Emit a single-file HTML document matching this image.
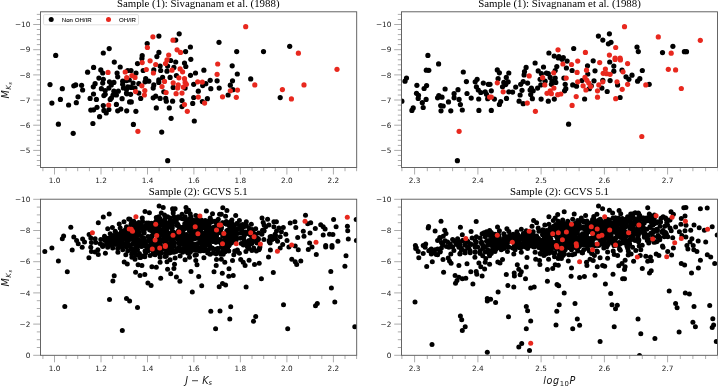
<!DOCTYPE html>
<html lang="en"><head><meta charset="utf-8"><title>Sample figure</title>
<style>html,body{margin:0;padding:0;background:#fff}body{width:718px;height:386px;overflow:hidden}svg{display:block}.t{font-family:"DejaVu Sans","Liberation Sans",sans-serif;font-size:7.3px;fill:#1a1a1a}.ti{font-family:"Liberation Serif","DejaVu Serif",serif;font-size:10.85px;fill:#000}.lb{font-family:"DejaVu Sans","Liberation Sans",sans-serif;font-style:italic;fill:#111}.lg{font-family:"Liberation Sans","DejaVu Sans",sans-serif;font-size:6.1px;fill:#111;stroke:#111;stroke-width:0.1px}</style></head><body>
<svg width="718" height="386" viewBox="0 0 718 386">
<rect width="718" height="386" fill="#fff"/>
<clipPath id="c40_11"><rect x="40.5" y="11.8" width="316.2" height="155.7"/></clipPath>
<g clip-path="url(#c40_11)">
<g fill="#000">
<circle cx="55.7" cy="55.4" r="2.6"/><circle cx="103.3" cy="53" r="2.6"/><circle cx="109.2" cy="48.6" r="2.6"/><circle cx="158.9" cy="36.1" r="2.6"/><circle cx="179.2" cy="33.8" r="2.6"/><circle cx="175.7" cy="40.1" r="2.6"/><circle cx="147.2" cy="43.6" r="2.6"/><circle cx="190.4" cy="47" r="2.6"/><circle cx="185.6" cy="51.6" r="2.6"/><circle cx="158.9" cy="52.4" r="2.6"/><circle cx="142.2" cy="55.7" r="2.6"/><circle cx="156.9" cy="56.6" r="2.6"/><circle cx="219" cy="42.3" r="2.6"/><circle cx="236.7" cy="51.6" r="2.6"/><circle cx="263.5" cy="51.6" r="2.6"/><circle cx="289.7" cy="46.3" r="2.6"/><circle cx="50" cy="84.6" r="2.6"/><circle cx="62.3" cy="88.7" r="2.6"/><circle cx="73.8" cy="85.8" r="2.6"/><circle cx="75.7" cy="84.9" r="2.6"/><circle cx="81.6" cy="85.3" r="2.6"/><circle cx="82.6" cy="90" r="2.6"/><circle cx="78" cy="96.8" r="2.6"/><circle cx="60.4" cy="99.4" r="2.6"/><circle cx="51.9" cy="103.1" r="2.6"/><circle cx="76.3" cy="102.7" r="2.6"/><circle cx="68.6" cy="105" r="2.6"/><circle cx="87.6" cy="72.2" r="2.6"/><circle cx="93.6" cy="67.4" r="2.6"/><circle cx="100.8" cy="69.9" r="2.6"/><circle cx="102.7" cy="73" r="2.6"/><circle cx="98.9" cy="78.1" r="2.6"/><circle cx="103.3" cy="79.3" r="2.6"/><circle cx="102.7" cy="83.1" r="2.6"/><circle cx="95.1" cy="83.7" r="2.6"/><circle cx="93.3" cy="86.8" r="2.6"/><circle cx="101.4" cy="88.7" r="2.6"/><circle cx="105.2" cy="90.6" r="2.6"/><circle cx="93.5" cy="94" r="2.6"/><circle cx="90.1" cy="98.4" r="2.6"/><circle cx="96.4" cy="99.4" r="2.6"/><circle cx="103.9" cy="95.6" r="2.6"/><circle cx="105.2" cy="94.3" r="2.6"/><circle cx="109.5" cy="81.8" r="2.6"/><circle cx="113.9" cy="82.4" r="2.6"/><circle cx="108.9" cy="88.1" r="2.6"/><circle cx="114.3" cy="62.1" r="2.6"/><circle cx="120.2" cy="67" r="2.6"/><circle cx="117.1" cy="73" r="2.6"/><circle cx="117.7" cy="76.8" r="2.6"/><circle cx="122.7" cy="81.2" r="2.6"/><circle cx="126.5" cy="80.6" r="2.6"/><circle cx="122.7" cy="84.3" r="2.6"/><circle cx="127.7" cy="86.8" r="2.6"/><circle cx="113.9" cy="91.2" r="2.6"/><circle cx="118.3" cy="91.2" r="2.6"/><circle cx="116.4" cy="95" r="2.6"/><circle cx="111.4" cy="98.1" r="2.6"/><circle cx="122.1" cy="98.7" r="2.6"/><circle cx="126.5" cy="93.1" r="2.6"/><circle cx="126.5" cy="89.3" r="2.6"/><circle cx="129.6" cy="101.9" r="2.6"/><circle cx="116.4" cy="104.4" r="2.6"/><circle cx="103.3" cy="105.6" r="2.6"/><circle cx="110.2" cy="99.4" r="2.6"/><circle cx="127.7" cy="70.5" r="2.6"/><circle cx="137.5" cy="63.6" r="2.6"/><circle cx="141.9" cy="58.6" r="2.6"/><circle cx="160.1" cy="66.1" r="2.6"/><circle cx="170.7" cy="60.5" r="2.6"/><circle cx="175.7" cy="62" r="2.6"/><circle cx="167.6" cy="66.1" r="2.6"/><circle cx="184.5" cy="63" r="2.6"/><circle cx="185.8" cy="66.5" r="2.6"/><circle cx="190.8" cy="59.3" r="2.6"/><circle cx="173.9" cy="67.4" r="2.6"/><circle cx="131" cy="70.5" r="2.6"/><circle cx="136" cy="73" r="2.6"/><circle cx="143.2" cy="70.5" r="2.6"/><circle cx="153.8" cy="69.9" r="2.6"/><circle cx="160.7" cy="70.5" r="2.6"/><circle cx="167" cy="71.2" r="2.6"/><circle cx="176.4" cy="75.5" r="2.6"/><circle cx="170.1" cy="77.4" r="2.6"/><circle cx="162.6" cy="77.4" r="2.6"/><circle cx="158.8" cy="79.9" r="2.6"/><circle cx="145.7" cy="78.7" r="2.6"/><circle cx="148.8" cy="81.2" r="2.6"/><circle cx="145" cy="81.8" r="2.6"/><circle cx="153.8" cy="84.9" r="2.6"/><circle cx="153.2" cy="88.1" r="2.6"/><circle cx="138.8" cy="83.7" r="2.6"/><circle cx="133.1" cy="83.1" r="2.6"/><circle cx="131.3" cy="87.4" r="2.6"/><circle cx="135" cy="88.1" r="2.6"/><circle cx="138.8" cy="93.1" r="2.6"/><circle cx="130.6" cy="94.3" r="2.6"/><circle cx="140.7" cy="98.4" r="2.6"/><circle cx="153.2" cy="97.8" r="2.6"/><circle cx="155.7" cy="96.2" r="2.6"/><circle cx="160.1" cy="98.4" r="2.6"/><circle cx="165.7" cy="98.4" r="2.6"/><circle cx="166.3" cy="101.2" r="2.6"/><circle cx="172.6" cy="101.2" r="2.6"/><circle cx="163.8" cy="91.8" r="2.6"/><circle cx="173.2" cy="87.4" r="2.6"/><circle cx="182" cy="100.6" r="2.6"/><circle cx="131.3" cy="101.9" r="2.6"/><circle cx="190.5" cy="75.3" r="2.6"/><circle cx="195.5" cy="73" r="2.6"/><circle cx="203.9" cy="70.2" r="2.6"/><circle cx="193.7" cy="84.3" r="2.6"/><circle cx="198.3" cy="91.2" r="2.6"/><circle cx="193.7" cy="97.5" r="2.6"/><circle cx="192.7" cy="103.4" r="2.6"/><circle cx="202.4" cy="101.6" r="2.6"/><circle cx="207.4" cy="98.7" r="2.6"/><circle cx="205.8" cy="83.7" r="2.6"/><circle cx="202.7" cy="85.6" r="2.6"/><circle cx="210.2" cy="80.3" r="2.6"/><circle cx="210.8" cy="88.7" r="2.6"/><circle cx="217.1" cy="80.8" r="2.6"/><circle cx="219.2" cy="88.1" r="2.6"/><circle cx="185.1" cy="88.1" r="2.6"/><circle cx="158.8" cy="82.4" r="2.6"/><circle cx="232.2" cy="65.8" r="2.6"/><circle cx="237.3" cy="74" r="2.6"/><circle cx="250.7" cy="78.9" r="2.6"/><circle cx="232.5" cy="80.8" r="2.6"/><circle cx="230.3" cy="85.2" r="2.6"/><circle cx="232.9" cy="89.7" r="2.6"/><circle cx="228.1" cy="95" r="2.6"/><circle cx="280.2" cy="97.6" r="2.6"/><circle cx="58.4" cy="124.2" r="2.6"/><circle cx="73.2" cy="133.3" r="2.6"/><circle cx="92.9" cy="123.5" r="2.6"/><circle cx="99.6" cy="116.7" r="2.6"/><circle cx="90.8" cy="110.1" r="2.6"/><circle cx="93.6" cy="109.8" r="2.6"/><circle cx="97" cy="107.3" r="2.6"/><circle cx="103.9" cy="110.4" r="2.6"/><circle cx="106.2" cy="112.9" r="2.6"/><circle cx="108.9" cy="109.5" r="2.6"/><circle cx="117.7" cy="110.8" r="2.6"/><circle cx="120.8" cy="109.1" r="2.6"/><circle cx="126.7" cy="110.8" r="2.6"/><circle cx="135.9" cy="111.3" r="2.6"/><circle cx="133.4" cy="124.4" r="2.6"/><circle cx="156.3" cy="107.9" r="2.6"/><circle cx="169.3" cy="107.9" r="2.6"/><circle cx="171.1" cy="118.3" r="2.6"/><circle cx="194.3" cy="121" r="2.6"/><circle cx="161.7" cy="132.1" r="2.6"/><circle cx="182" cy="106.6" r="2.6"/><circle cx="167.7" cy="160.7" r="2.6"/><circle cx="111.3" cy="85" r="2.6"/><circle cx="123.4" cy="88" r="2.6"/><circle cx="130.1" cy="87.1" r="2.6"/><circle cx="126.8" cy="93.8" r="2.6"/><circle cx="113" cy="95.1" r="2.6"/><circle cx="129.3" cy="80" r="2.6"/>
</g><g fill="#e8281e">
<circle cx="152.9" cy="36.8" r="2.6"/><circle cx="173" cy="40.2" r="2.6"/><circle cx="147.4" cy="47.5" r="2.6"/><circle cx="177.1" cy="49.8" r="2.6"/><circle cx="180.5" cy="52.4" r="2.6"/><circle cx="168.7" cy="55.1" r="2.6"/><circle cx="245.7" cy="26.7" r="2.6"/><circle cx="298.4" cy="53.2" r="2.6"/><circle cx="108" cy="72.4" r="2.6"/><circle cx="125.2" cy="72" r="2.6"/><circle cx="126.7" cy="77.7" r="2.6"/><circle cx="108.7" cy="105" r="2.6"/><circle cx="142.2" cy="62.6" r="2.6"/><circle cx="150.1" cy="60.8" r="2.6"/><circle cx="155.7" cy="64.5" r="2.6"/><circle cx="167" cy="59.9" r="2.6"/><circle cx="165.5" cy="63.6" r="2.6"/><circle cx="146.3" cy="69.5" r="2.6"/><circle cx="153.4" cy="73" r="2.6"/><circle cx="172" cy="70.2" r="2.6"/><circle cx="180.1" cy="68.9" r="2.6"/><circle cx="182.6" cy="71.8" r="2.6"/><circle cx="131.9" cy="75.5" r="2.6"/><circle cx="135" cy="77.4" r="2.6"/><circle cx="178.9" cy="77.8" r="2.6"/><circle cx="184.5" cy="78.7" r="2.6"/><circle cx="164.5" cy="81.4" r="2.6"/><circle cx="173.2" cy="82.8" r="2.6"/><circle cx="185.1" cy="82.4" r="2.6"/><circle cx="186.4" cy="84.3" r="2.6"/><circle cx="178.2" cy="84.9" r="2.6"/><circle cx="183.3" cy="87.1" r="2.6"/><circle cx="177.6" cy="88.1" r="2.6"/><circle cx="162" cy="86.6" r="2.6"/><circle cx="141.9" cy="85.8" r="2.6"/><circle cx="144.8" cy="90.6" r="2.6"/><circle cx="135.6" cy="91.6" r="2.6"/><circle cx="144.4" cy="95" r="2.6"/><circle cx="166.1" cy="92.5" r="2.6"/><circle cx="176.1" cy="93.7" r="2.6"/><circle cx="182" cy="93.1" r="2.6"/><circle cx="197.7" cy="81.8" r="2.6"/><circle cx="202.3" cy="82.1" r="2.6"/><circle cx="198.3" cy="97.1" r="2.6"/><circle cx="204.6" cy="103.1" r="2.6"/><circle cx="184.5" cy="104.6" r="2.6"/><circle cx="217.7" cy="64" r="2.6"/><circle cx="217.1" cy="74.3" r="2.6"/><circle cx="254.8" cy="84.9" r="2.6"/><circle cx="230.3" cy="90.8" r="2.6"/><circle cx="237.5" cy="90.1" r="2.6"/><circle cx="222.5" cy="96.8" r="2.6"/><circle cx="236.3" cy="97.3" r="2.6"/><circle cx="282.4" cy="89.6" r="2.6"/><circle cx="291.4" cy="98.9" r="2.6"/><circle cx="304" cy="84.9" r="2.6"/><circle cx="337" cy="69.3" r="2.6"/><circle cx="137.9" cy="131.3" r="2.6"/><circle cx="187.3" cy="111.3" r="2.6"/>
</g></g>
<rect x="40.5" y="11.8" width="316.2" height="155.7" fill="none" stroke="#555" stroke-width="0.9"/>
<path d="M54.5 167.5v7M101 167.5v7M147.5 167.5v7M193.9 167.5v7M240.4 167.5v7M286.9 167.5v7M333.4 167.5v7M42.9 167.5v3.7M66.1 167.5v3.7M77.7 167.5v3.7M89.4 167.5v3.7M112.6 167.5v3.7M124.2 167.5v3.7M135.8 167.5v3.7M159.1 167.5v3.7M170.7 167.5v3.7M182.3 167.5v3.7M205.6 167.5v3.7M217.2 167.5v3.7M228.8 167.5v3.7M252 167.5v3.7M263.7 167.5v3.7M275.3 167.5v3.7M298.5 167.5v3.7M310.1 167.5v3.7M321.8 167.5v3.7M345 167.5v3.7M356.6 167.5v3.7M40.5 24.5h-7.3M40.5 49.7h-7.3M40.5 74.9h-7.3M40.5 100h-7.3M40.5 125.2h-7.3M40.5 150.4h-7.3M40.5 14.4h-3.7M40.5 19.5h-3.7M40.5 29.5h-3.7M40.5 34.6h-3.7M40.5 39.6h-3.7M40.5 44.6h-3.7M40.5 54.7h-3.7M40.5 59.8h-3.7M40.5 64.8h-3.7M40.5 69.8h-3.7M40.5 79.9h-3.7M40.5 84.9h-3.7M40.5 90h-3.7M40.5 95h-3.7M40.5 105.1h-3.7M40.5 110.1h-3.7M40.5 115.1h-3.7M40.5 120.2h-3.7M40.5 130.3h-3.7M40.5 135.3h-3.7M40.5 140.3h-3.7M40.5 145.4h-3.7M40.5 155.4h-3.7M40.5 160.5h-3.7M40.5 165.5h-3.7" stroke="#666" stroke-width="0.55" fill="none"/>
<text class="t" x="54.5" y="182.8" text-anchor="middle">1.0</text>
<text class="t" x="101" y="182.8" text-anchor="middle">1.2</text>
<text class="t" x="147.5" y="182.8" text-anchor="middle">1.4</text>
<text class="t" x="193.9" y="182.8" text-anchor="middle">1.6</text>
<text class="t" x="240.4" y="182.8" text-anchor="middle">1.8</text>
<text class="t" x="286.9" y="182.8" text-anchor="middle">2.0</text>
<text class="t" x="333.4" y="182.8" text-anchor="middle">2.2</text>
<text class="t" x="30.3" y="27.2" text-anchor="end">−10</text>
<text class="t" x="30.3" y="52.4" text-anchor="end">−9</text>
<text class="t" x="30.3" y="77.6" text-anchor="end">−8</text>
<text class="t" x="30.3" y="102.7" text-anchor="end">−7</text>
<text class="t" x="30.3" y="127.9" text-anchor="end">−6</text>
<text class="t" x="30.3" y="153.1" text-anchor="end">−5</text>
<clipPath id="c401_11"><rect x="401.5" y="11.8" width="316" height="155.7"/></clipPath>
<g clip-path="url(#c401_11)">
<g fill="#000">
<circle cx="427.9" cy="55.4" r="2.6"/><circle cx="548.9" cy="53" r="2.6"/><circle cx="573.7" cy="48.5" r="2.6"/><circle cx="554.2" cy="56.1" r="2.6"/><circle cx="558.9" cy="56.6" r="2.6"/><circle cx="563.3" cy="57.6" r="2.6"/><circle cx="598.4" cy="36.1" r="2.6"/><circle cx="609.4" cy="33.8" r="2.6"/><circle cx="602.8" cy="40.1" r="2.6"/><circle cx="611" cy="42.3" r="2.6"/><circle cx="608.4" cy="43.8" r="2.6"/><circle cx="637" cy="47" r="2.6"/><circle cx="638.3" cy="51.6" r="2.6"/><circle cx="662.5" cy="52.6" r="2.6"/><circle cx="672.9" cy="46.3" r="2.6"/><circle cx="684.4" cy="51.7" r="2.6"/><circle cx="686.5" cy="51.7" r="2.6"/><circle cx="438.6" cy="63.9" r="2.6"/><circle cx="426.3" cy="70.2" r="2.6"/><circle cx="428.8" cy="70.3" r="2.6"/><circle cx="463.3" cy="72" r="2.6"/><circle cx="406.5" cy="78.1" r="2.6"/><circle cx="405" cy="81.2" r="2.6"/><circle cx="416.9" cy="85.3" r="2.6"/><circle cx="426.6" cy="85.6" r="2.6"/><circle cx="424.1" cy="88.5" r="2.6"/><circle cx="445.1" cy="89" r="2.6"/><circle cx="458" cy="89.7" r="2.6"/><circle cx="466.4" cy="81.6" r="2.6"/><circle cx="477.1" cy="79.3" r="2.6"/><circle cx="475.2" cy="81.8" r="2.6"/><circle cx="483.3" cy="83.1" r="2.6"/><circle cx="488.3" cy="84.3" r="2.6"/><circle cx="476.4" cy="86.8" r="2.6"/><circle cx="478.3" cy="90" r="2.6"/><circle cx="480.8" cy="92.5" r="2.6"/><circle cx="485.2" cy="91.8" r="2.6"/><circle cx="486.5" cy="94.3" r="2.6"/><circle cx="416.5" cy="93.3" r="2.6"/><circle cx="418.5" cy="95.3" r="2.6"/><circle cx="418.2" cy="98.4" r="2.6"/><circle cx="426.1" cy="99.4" r="2.6"/><circle cx="438.8" cy="95.6" r="2.6"/><circle cx="442" cy="97.2" r="2.6"/><circle cx="437.6" cy="97.8" r="2.6"/><circle cx="454.1" cy="93.7" r="2.6"/><circle cx="454.1" cy="97.8" r="2.6"/><circle cx="459.1" cy="99.4" r="2.6"/><circle cx="467" cy="93.5" r="2.6"/><circle cx="471.2" cy="98.1" r="2.6"/><circle cx="478.7" cy="99" r="2.6"/><circle cx="487.7" cy="98.7" r="2.6"/><circle cx="448.5" cy="101.9" r="2.6"/><circle cx="422.3" cy="102.7" r="2.6"/><circle cx="401.9" cy="101.2" r="2.6"/><circle cx="440.7" cy="105.6" r="2.6"/><circle cx="460.4" cy="104.6" r="2.6"/><circle cx="443.2" cy="106" r="2.6"/><circle cx="535.1" cy="63" r="2.6"/><circle cx="543.5" cy="67" r="2.6"/><circle cx="526.1" cy="67.4" r="2.6"/><circle cx="556.8" cy="66.5" r="2.6"/><circle cx="555.2" cy="70.5" r="2.6"/><circle cx="497.3" cy="69.9" r="2.6"/><circle cx="499.4" cy="72.8" r="2.6"/><circle cx="508.8" cy="73" r="2.6"/><circle cx="506.3" cy="77.4" r="2.6"/><circle cx="524.5" cy="71.5" r="2.6"/><circle cx="524.1" cy="74.9" r="2.6"/><circle cx="538.2" cy="70.9" r="2.6"/><circle cx="541.4" cy="73.7" r="2.6"/><circle cx="548.3" cy="73.7" r="2.6"/><circle cx="550.2" cy="77.4" r="2.6"/><circle cx="555.2" cy="78.1" r="2.6"/><circle cx="552" cy="81.2" r="2.6"/><circle cx="555.8" cy="82.4" r="2.6"/><circle cx="551.4" cy="84.3" r="2.6"/><circle cx="540.1" cy="79.3" r="2.6"/><circle cx="545.1" cy="81.2" r="2.6"/><circle cx="498.1" cy="78.7" r="2.6"/><circle cx="503.8" cy="82.4" r="2.6"/><circle cx="508.2" cy="81.8" r="2.6"/><circle cx="505.7" cy="84.6" r="2.6"/><circle cx="502.5" cy="86.8" r="2.6"/><circle cx="515.7" cy="87.1" r="2.6"/><circle cx="523.2" cy="81.6" r="2.6"/><circle cx="527.6" cy="83.1" r="2.6"/><circle cx="520.7" cy="84.3" r="2.6"/><circle cx="491.3" cy="90.8" r="2.6"/><circle cx="490" cy="84.3" r="2.6"/><circle cx="508.8" cy="91.8" r="2.6"/><circle cx="512.6" cy="92.1" r="2.6"/><circle cx="522" cy="90.3" r="2.6"/><circle cx="520.1" cy="95" r="2.6"/><circle cx="531.4" cy="88.1" r="2.6"/><circle cx="533.2" cy="90.8" r="2.6"/><circle cx="530.1" cy="90" r="2.6"/><circle cx="537.6" cy="88.1" r="2.6"/><circle cx="530.7" cy="94.6" r="2.6"/><circle cx="532.4" cy="98.7" r="2.6"/><circle cx="541.1" cy="99.1" r="2.6"/><circle cx="548.3" cy="101.2" r="2.6"/><circle cx="554.3" cy="99.1" r="2.6"/><circle cx="506.5" cy="98.4" r="2.6"/><circle cx="494.4" cy="99.1" r="2.6"/><circle cx="500.7" cy="101.6" r="2.6"/><circle cx="499.4" cy="104.4" r="2.6"/><circle cx="519.1" cy="101.2" r="2.6"/><circle cx="523.2" cy="103.7" r="2.6"/><circle cx="563.9" cy="78.1" r="2.6"/><circle cx="565.2" cy="84.3" r="2.6"/><circle cx="565.8" cy="88.7" r="2.6"/><circle cx="564.6" cy="90.8" r="2.6"/><circle cx="572.7" cy="84.9" r="2.6"/><circle cx="576.5" cy="86.2" r="2.6"/><circle cx="572.1" cy="70.5" r="2.6"/><circle cx="566.4" cy="68" r="2.6"/><circle cx="562.1" cy="59.3" r="2.6"/><circle cx="567.1" cy="61.1" r="2.6"/><circle cx="558.3" cy="58" r="2.6"/><circle cx="540.8" cy="84.9" r="2.6"/><circle cx="546.4" cy="73" r="2.6"/><circle cx="593.2" cy="60.8" r="2.6"/><circle cx="609.7" cy="62" r="2.6"/><circle cx="587.5" cy="65.8" r="2.6"/><circle cx="613.8" cy="66.1" r="2.6"/><circle cx="595" cy="70.8" r="2.6"/><circle cx="613.8" cy="71.2" r="2.6"/><circle cx="622" cy="70.2" r="2.6"/><circle cx="587.8" cy="74" r="2.6"/><circle cx="642.3" cy="70.5" r="2.6"/><circle cx="632" cy="75.2" r="2.6"/><circle cx="626" cy="76.8" r="2.6"/><circle cx="628.9" cy="79.3" r="2.6"/><circle cx="639.8" cy="78.7" r="2.6"/><circle cx="637.6" cy="81.2" r="2.6"/><circle cx="594" cy="80.8" r="2.6"/><circle cx="602.8" cy="80.3" r="2.6"/><circle cx="610.1" cy="80.6" r="2.6"/><circle cx="581.9" cy="80.6" r="2.6"/><circle cx="617.6" cy="84.9" r="2.6"/><circle cx="649.2" cy="84.3" r="2.6"/><circle cx="601.9" cy="88.1" r="2.6"/><circle cx="607.2" cy="91.5" r="2.6"/><circle cx="620.1" cy="97.5" r="2.6"/><circle cx="584.6" cy="99" r="2.6"/><circle cx="589.4" cy="88.7" r="2.6"/><circle cx="591.3" cy="85.8" r="2.6"/><circle cx="411.9" cy="110.4" r="2.6"/><circle cx="413.2" cy="107.9" r="2.6"/><circle cx="423.2" cy="107.5" r="2.6"/><circle cx="441" cy="110.8" r="2.6"/><circle cx="450.8" cy="110.8" r="2.6"/><circle cx="462.3" cy="110" r="2.6"/><circle cx="478.9" cy="110.4" r="2.6"/><circle cx="568.6" cy="124.2" r="2.6"/><circle cx="491.3" cy="110.4" r="2.6"/><circle cx="457.4" cy="160.7" r="2.6"/>
</g><g fill="#e8281e">
<circle cx="558" cy="49.8" r="2.6"/><circle cx="624.5" cy="26.7" r="2.6"/><circle cx="658.3" cy="36.9" r="2.6"/><circle cx="615.7" cy="47.5" r="2.6"/><circle cx="585.4" cy="52.4" r="2.6"/><circle cx="609.4" cy="55.1" r="2.6"/><circle cx="615.1" cy="58" r="2.6"/><circle cx="620.1" cy="58.2" r="2.6"/><circle cx="671.2" cy="53.2" r="2.6"/><circle cx="700.3" cy="40.3" r="2.6"/><circle cx="489.6" cy="97.1" r="2.6"/><circle cx="562.9" cy="64" r="2.6"/><circle cx="571.5" cy="64.5" r="2.6"/><circle cx="577.7" cy="61.1" r="2.6"/><circle cx="577.1" cy="72.4" r="2.6"/><circle cx="553.7" cy="72.8" r="2.6"/><circle cx="529.2" cy="75.9" r="2.6"/><circle cx="542.6" cy="77.7" r="2.6"/><circle cx="566.2" cy="78.1" r="2.6"/><circle cx="577.7" cy="81.8" r="2.6"/><circle cx="497.3" cy="82.8" r="2.6"/><circle cx="544.8" cy="84.9" r="2.6"/><circle cx="553.9" cy="88.1" r="2.6"/><circle cx="550.2" cy="90.8" r="2.6"/><circle cx="547" cy="93.3" r="2.6"/><circle cx="551.4" cy="93.7" r="2.6"/><circle cx="557.7" cy="94.7" r="2.6"/><circle cx="560.8" cy="94" r="2.6"/><circle cx="503.2" cy="91.8" r="2.6"/><circle cx="491.3" cy="97.1" r="2.6"/><circle cx="576.2" cy="96.6" r="2.6"/><circle cx="527.3" cy="103.1" r="2.6"/><circle cx="572.1" cy="105.4" r="2.6"/><circle cx="599.7" cy="62.6" r="2.6"/><circle cx="615.1" cy="59.5" r="2.6"/><circle cx="620.4" cy="59.9" r="2.6"/><circle cx="627.6" cy="63.6" r="2.6"/><circle cx="586.5" cy="70.2" r="2.6"/><circle cx="605.4" cy="69" r="2.6"/><circle cx="603.2" cy="73.3" r="2.6"/><circle cx="606.6" cy="73.7" r="2.6"/><circle cx="610.1" cy="74.3" r="2.6"/><circle cx="623" cy="71.8" r="2.6"/><circle cx="585" cy="77.4" r="2.6"/><circle cx="586.9" cy="80.3" r="2.6"/><circle cx="588.8" cy="83.1" r="2.6"/><circle cx="590.7" cy="86.6" r="2.6"/><circle cx="583.1" cy="85.8" r="2.6"/><circle cx="585.9" cy="90" r="2.6"/><circle cx="602.8" cy="81.8" r="2.6"/><circle cx="598.8" cy="84.9" r="2.6"/><circle cx="597.5" cy="90.8" r="2.6"/><circle cx="597.5" cy="97.2" r="2.6"/><circle cx="617" cy="81.8" r="2.6"/><circle cx="627.6" cy="84.3" r="2.6"/><circle cx="622.2" cy="89.3" r="2.6"/><circle cx="615.7" cy="98.7" r="2.6"/><circle cx="645.8" cy="84.9" r="2.6"/><circle cx="668.3" cy="69.3" r="2.6"/><circle cx="675.6" cy="69.9" r="2.6"/><circle cx="681.3" cy="88.5" r="2.6"/><circle cx="459.1" cy="131.3" r="2.6"/><circle cx="535.4" cy="111.3" r="2.6"/><circle cx="641.8" cy="136.5" r="2.6"/>
</g></g>
<rect x="401.5" y="11.8" width="316" height="155.7" fill="none" stroke="#555" stroke-width="0.9"/>
<path d="M414.6 167.5v7M477.9 167.5v7M541.1 167.5v7M604.4 167.5v7M667.6 167.5v7M401.9 167.5v3.7M427.3 167.5v3.7M439.9 167.5v3.7M452.6 167.5v3.7M465.2 167.5v3.7M490.5 167.5v3.7M503.2 167.5v3.7M515.8 167.5v3.7M528.5 167.5v3.7M553.8 167.5v3.7M566.4 167.5v3.7M579.1 167.5v3.7M591.7 167.5v3.7M617 167.5v3.7M629.7 167.5v3.7M642.3 167.5v3.7M655 167.5v3.7M680.3 167.5v3.7M692.9 167.5v3.7M705.6 167.5v3.7M718.2 167.5v3.7M401.5 24.5h-7.3M401.5 49.7h-7.3M401.5 74.9h-7.3M401.5 100h-7.3M401.5 125.2h-7.3M401.5 150.4h-7.3M401.5 14.4h-3.7M401.5 19.5h-3.7M401.5 29.5h-3.7M401.5 34.6h-3.7M401.5 39.6h-3.7M401.5 44.6h-3.7M401.5 54.7h-3.7M401.5 59.8h-3.7M401.5 64.8h-3.7M401.5 69.8h-3.7M401.5 79.9h-3.7M401.5 84.9h-3.7M401.5 90h-3.7M401.5 95h-3.7M401.5 105.1h-3.7M401.5 110.1h-3.7M401.5 115.1h-3.7M401.5 120.2h-3.7M401.5 130.3h-3.7M401.5 135.3h-3.7M401.5 140.3h-3.7M401.5 145.4h-3.7M401.5 155.4h-3.7M401.5 160.5h-3.7M401.5 165.5h-3.7" stroke="#666" stroke-width="0.55" fill="none"/>
<text class="t" x="414.6" y="182.8" text-anchor="middle">2.3</text>
<text class="t" x="477.9" y="182.8" text-anchor="middle">2.4</text>
<text class="t" x="541.1" y="182.8" text-anchor="middle">2.5</text>
<text class="t" x="604.4" y="182.8" text-anchor="middle">2.6</text>
<text class="t" x="667.6" y="182.8" text-anchor="middle">2.7</text>
<text class="t" x="391.3" y="27.2" text-anchor="end">−10</text>
<text class="t" x="391.3" y="52.4" text-anchor="end">−9</text>
<text class="t" x="391.3" y="77.6" text-anchor="end">−8</text>
<text class="t" x="391.3" y="102.7" text-anchor="end">−7</text>
<text class="t" x="391.3" y="127.9" text-anchor="end">−6</text>
<text class="t" x="391.3" y="153.1" text-anchor="end">−5</text>
<clipPath id="c40_199"><rect x="40.5" y="199.2" width="316.2" height="156.1"/></clipPath>
<g clip-path="url(#c40_199)">
<g fill="#000">
<circle cx="128.4" cy="236" r="2.5"/><circle cx="126.1" cy="231" r="2.5"/><circle cx="125.6" cy="233.3" r="2.5"/><circle cx="128.4" cy="240.6" r="2.5"/><circle cx="125.5" cy="229.6" r="2.5"/><circle cx="123.5" cy="232.7" r="2.5"/><circle cx="126.9" cy="237.6" r="2.5"/><circle cx="123" cy="246" r="2.5"/><circle cx="127.2" cy="232.6" r="2.5"/><circle cx="107.1" cy="244.3" r="2.5"/><circle cx="125.8" cy="230.1" r="2.5"/><circle cx="105.3" cy="240.3" r="2.5"/><circle cx="121.9" cy="233.8" r="2.5"/><circle cx="124.4" cy="238.8" r="2.5"/><circle cx="125.4" cy="237.8" r="2.5"/><circle cx="123.8" cy="237.2" r="2.5"/><circle cx="121.7" cy="239.3" r="2.5"/><circle cx="127.7" cy="233.7" r="2.5"/><circle cx="128.1" cy="239.8" r="2.5"/><circle cx="104.9" cy="239.1" r="2.5"/><circle cx="121.1" cy="245.4" r="2.5"/><circle cx="104.5" cy="239.3" r="2.5"/><circle cx="127.4" cy="235.4" r="2.5"/><circle cx="124.9" cy="237.2" r="2.5"/><circle cx="122.9" cy="234.9" r="2.5"/><circle cx="115.4" cy="238.8" r="2.5"/><circle cx="120.1" cy="244" r="2.5"/><circle cx="112.3" cy="236.5" r="2.5"/><circle cx="108" cy="238.3" r="2.5"/><circle cx="112.5" cy="236.3" r="2.5"/><circle cx="127.3" cy="230.2" r="2.5"/><circle cx="115" cy="239.3" r="2.5"/><circle cx="118.6" cy="235.2" r="2.5"/><circle cx="115.5" cy="244.3" r="2.5"/><circle cx="116.3" cy="243.3" r="2.5"/><circle cx="119.3" cy="246" r="2.5"/><circle cx="114" cy="244.1" r="2.5"/><circle cx="108.7" cy="239.8" r="2.5"/><circle cx="110.7" cy="238.8" r="2.5"/><circle cx="109.8" cy="243.9" r="2.5"/><circle cx="122.5" cy="231.6" r="2.5"/><circle cx="119.1" cy="242.9" r="2.5"/><circle cx="123.6" cy="244.9" r="2.5"/><circle cx="109.5" cy="241.9" r="2.5"/><circle cx="119.7" cy="238.7" r="2.5"/><circle cx="122.4" cy="231.9" r="2.5"/><circle cx="125.9" cy="236.1" r="2.5"/><circle cx="113.3" cy="238.1" r="2.5"/><circle cx="121.6" cy="237.2" r="2.5"/><circle cx="125.8" cy="231.5" r="2.5"/><circle cx="121.9" cy="240.6" r="2.5"/><circle cx="113.8" cy="238.8" r="2.5"/><circle cx="119.8" cy="244.7" r="2.5"/><circle cx="109.6" cy="241.4" r="2.5"/><circle cx="121.4" cy="231.4" r="2.5"/><circle cx="126.8" cy="242.6" r="2.5"/><circle cx="121.3" cy="241.5" r="2.5"/><circle cx="119.9" cy="241.2" r="2.5"/><circle cx="116.6" cy="233.4" r="2.5"/><circle cx="102.2" cy="245.3" r="2.5"/><circle cx="119.7" cy="236.8" r="2.5"/><circle cx="102" cy="244.7" r="2.5"/><circle cx="109.3" cy="242.2" r="2.5"/><circle cx="117.9" cy="242.7" r="2.5"/><circle cx="113.3" cy="235.5" r="2.5"/><circle cx="129.4" cy="227.8" r="2.5"/><circle cx="120.4" cy="240.4" r="2.5"/><circle cx="104.6" cy="239.3" r="2.5"/><circle cx="127.1" cy="236.8" r="2.5"/><circle cx="122.5" cy="242.3" r="2.5"/><circle cx="113.1" cy="237.5" r="2.5"/><circle cx="114.5" cy="240.9" r="2.5"/><circle cx="116.2" cy="241.2" r="2.5"/><circle cx="128.2" cy="234.8" r="2.5"/><circle cx="106.1" cy="239" r="2.5"/><circle cx="118.5" cy="237.5" r="2.5"/><circle cx="109.1" cy="245.2" r="2.5"/><circle cx="112.3" cy="239.9" r="2.5"/><circle cx="108.9" cy="242.7" r="2.5"/><circle cx="129.9" cy="229.9" r="2.5"/><circle cx="114.7" cy="244" r="2.5"/><circle cx="114" cy="242.6" r="2.5"/><circle cx="117.4" cy="237.6" r="2.5"/><circle cx="107.9" cy="241.1" r="2.5"/><circle cx="109.6" cy="241.5" r="2.5"/><circle cx="109.2" cy="213.9" r="2.5"/><circle cx="103.3" cy="217" r="2.5"/><circle cx="98.3" cy="222.8" r="2.5"/><circle cx="70.8" cy="227.2" r="2.5"/><circle cx="63.6" cy="236" r="2.5"/><circle cx="62.3" cy="238.7" r="2.5"/><circle cx="73.8" cy="237.1" r="2.5"/><circle cx="76.6" cy="240.4" r="2.5"/><circle cx="78.2" cy="243.7" r="2.5"/><circle cx="82.6" cy="239.1" r="2.5"/><circle cx="84.5" cy="241.9" r="2.5"/><circle cx="89.1" cy="234.6" r="2.5"/><circle cx="90.8" cy="238.1" r="2.5"/><circle cx="95.1" cy="238.7" r="2.5"/><circle cx="91.4" cy="242.5" r="2.5"/><circle cx="95.8" cy="242.5" r="2.5"/><circle cx="107.7" cy="228.7" r="2.5"/><circle cx="112.4" cy="227.4" r="2.5"/><circle cx="119.2" cy="224.1" r="2.5"/><circle cx="124" cy="221.8" r="2.5"/><circle cx="128.7" cy="219.1" r="2.5"/><circle cx="126.5" cy="226.8" r="2.5"/><circle cx="120.2" cy="228.1" r="2.5"/><circle cx="115.2" cy="231.2" r="2.5"/><circle cx="110.2" cy="233.7" r="2.5"/><circle cx="104.5" cy="236.2" r="2.5"/><circle cx="100.8" cy="239.4" r="2.5"/><circle cx="105.2" cy="240.6" r="2.5"/><circle cx="110.2" cy="238.1" r="2.5"/><circle cx="115.2" cy="236.8" r="2.5"/><circle cx="120.2" cy="234.3" r="2.5"/><circle cx="125.2" cy="233.1" r="2.5"/><circle cx="129" cy="234.3" r="2.5"/><circle cx="100.2" cy="243.7" r="2.5"/><circle cx="106.4" cy="244.4" r="2.5"/><circle cx="112.7" cy="241.9" r="2.5"/><circle cx="117.7" cy="240.6" r="2.5"/><circle cx="122.7" cy="239.4" r="2.5"/><circle cx="127.7" cy="239.4" r="2.5"/><circle cx="117.7" cy="244.4" r="2.5"/><circle cx="122.7" cy="244.4" r="2.5"/><circle cx="127.7" cy="243.7" r="2.5"/><circle cx="111.4" cy="245" r="2.5"/><circle cx="145.9" cy="245.8" r="2.5"/><circle cx="164.5" cy="228.8" r="2.5"/><circle cx="205.1" cy="227.9" r="2.5"/><circle cx="163.7" cy="228.8" r="2.5"/><circle cx="156.2" cy="221.6" r="2.5"/><circle cx="212.6" cy="228.5" r="2.5"/><circle cx="159.6" cy="222.5" r="2.5"/><circle cx="181.1" cy="240.8" r="2.5"/><circle cx="198.8" cy="232.5" r="2.5"/><circle cx="163" cy="235.2" r="2.5"/><circle cx="190.6" cy="242.9" r="2.5"/><circle cx="166.7" cy="230.9" r="2.5"/><circle cx="209.1" cy="240.1" r="2.5"/><circle cx="173.4" cy="221.2" r="2.5"/><circle cx="180" cy="234.1" r="2.5"/><circle cx="139.9" cy="226.6" r="2.5"/><circle cx="147.3" cy="225.5" r="2.5"/><circle cx="132.4" cy="244" r="2.5"/><circle cx="152.7" cy="239.7" r="2.5"/><circle cx="187.6" cy="225.9" r="2.5"/><circle cx="209.6" cy="235" r="2.5"/><circle cx="209.1" cy="239.9" r="2.5"/><circle cx="169.7" cy="243.3" r="2.5"/><circle cx="175" cy="235.6" r="2.5"/><circle cx="166.2" cy="223.8" r="2.5"/><circle cx="189" cy="238.7" r="2.5"/><circle cx="162.4" cy="240.3" r="2.5"/><circle cx="210.1" cy="237.7" r="2.5"/><circle cx="162.2" cy="230.5" r="2.5"/><circle cx="153.9" cy="223.7" r="2.5"/><circle cx="209.4" cy="241.6" r="2.5"/><circle cx="143.8" cy="231.6" r="2.5"/><circle cx="206.3" cy="228" r="2.5"/><circle cx="185.9" cy="222.2" r="2.5"/><circle cx="158.9" cy="238.4" r="2.5"/><circle cx="133.6" cy="240" r="2.5"/><circle cx="152.4" cy="231" r="2.5"/><circle cx="170.3" cy="234.6" r="2.5"/><circle cx="206.7" cy="238.3" r="2.5"/><circle cx="215.8" cy="221.7" r="2.5"/><circle cx="202.3" cy="223.3" r="2.5"/><circle cx="159.4" cy="224.7" r="2.5"/><circle cx="198.2" cy="236.7" r="2.5"/><circle cx="165.7" cy="245" r="2.5"/><circle cx="154.7" cy="230.9" r="2.5"/><circle cx="211.4" cy="235.2" r="2.5"/><circle cx="179.4" cy="226.7" r="2.5"/><circle cx="185.6" cy="236.7" r="2.5"/><circle cx="216.4" cy="240.4" r="2.5"/><circle cx="212.7" cy="241.5" r="2.5"/><circle cx="154.9" cy="224.4" r="2.5"/><circle cx="217" cy="229.9" r="2.5"/><circle cx="172.5" cy="225.2" r="2.5"/><circle cx="131.5" cy="238" r="2.5"/><circle cx="200.4" cy="226.7" r="2.5"/><circle cx="157.8" cy="229.2" r="2.5"/><circle cx="196.2" cy="230.3" r="2.5"/><circle cx="163.7" cy="224.1" r="2.5"/><circle cx="187.3" cy="245.2" r="2.5"/><circle cx="165" cy="234.7" r="2.5"/><circle cx="158.9" cy="223.2" r="2.5"/><circle cx="178.4" cy="242.7" r="2.5"/><circle cx="173" cy="234.7" r="2.5"/><circle cx="194.4" cy="244.5" r="2.5"/><circle cx="149.7" cy="230.1" r="2.5"/><circle cx="215.1" cy="221.6" r="2.5"/><circle cx="138.3" cy="234.9" r="2.5"/><circle cx="185.2" cy="228.5" r="2.5"/><circle cx="210.8" cy="240.8" r="2.5"/><circle cx="172" cy="228.2" r="2.5"/><circle cx="134.1" cy="236.5" r="2.5"/><circle cx="143" cy="240.3" r="2.5"/><circle cx="195.1" cy="220.6" r="2.5"/><circle cx="187" cy="222.4" r="2.5"/><circle cx="206.9" cy="241.6" r="2.5"/><circle cx="174.4" cy="238.6" r="2.5"/><circle cx="136.7" cy="244.9" r="2.5"/><circle cx="203.2" cy="225.7" r="2.5"/><circle cx="203" cy="225.5" r="2.5"/><circle cx="184.6" cy="242.4" r="2.5"/><circle cx="173" cy="231.7" r="2.5"/><circle cx="174.2" cy="242.9" r="2.5"/><circle cx="164.5" cy="225.2" r="2.5"/><circle cx="186.3" cy="234.5" r="2.5"/><circle cx="199" cy="237.5" r="2.5"/><circle cx="156.2" cy="230.2" r="2.5"/><circle cx="178.5" cy="230.6" r="2.5"/><circle cx="204.9" cy="239.9" r="2.5"/><circle cx="202.4" cy="245.6" r="2.5"/><circle cx="180.9" cy="230.9" r="2.5"/><circle cx="145.3" cy="243.3" r="2.5"/><circle cx="159.1" cy="227" r="2.5"/><circle cx="131.4" cy="223.1" r="2.5"/><circle cx="196.5" cy="238.2" r="2.5"/><circle cx="154.1" cy="240.7" r="2.5"/><circle cx="206.5" cy="222.3" r="2.5"/><circle cx="196.4" cy="228.1" r="2.5"/><circle cx="136.4" cy="242.5" r="2.5"/><circle cx="169.1" cy="224.9" r="2.5"/><circle cx="201.7" cy="237.4" r="2.5"/><circle cx="157.4" cy="221.9" r="2.5"/><circle cx="195.6" cy="234.7" r="2.5"/><circle cx="141.6" cy="244.8" r="2.5"/><circle cx="150.8" cy="243.7" r="2.5"/><circle cx="206.3" cy="236.1" r="2.5"/><circle cx="168.6" cy="235.1" r="2.5"/><circle cx="213.3" cy="230.4" r="2.5"/><circle cx="176.6" cy="238.1" r="2.5"/><circle cx="169.5" cy="245.2" r="2.5"/><circle cx="189.5" cy="231.5" r="2.5"/><circle cx="159.5" cy="238.2" r="2.5"/><circle cx="185" cy="240.2" r="2.5"/><circle cx="204.1" cy="239.8" r="2.5"/><circle cx="160.5" cy="241.1" r="2.5"/><circle cx="162.9" cy="222.4" r="2.5"/><circle cx="195.2" cy="227.2" r="2.5"/><circle cx="208.7" cy="223" r="2.5"/><circle cx="155.8" cy="227.1" r="2.5"/><circle cx="151" cy="242.5" r="2.5"/><circle cx="198.1" cy="234.8" r="2.5"/><circle cx="208.8" cy="234.6" r="2.5"/><circle cx="170.2" cy="233.4" r="2.5"/><circle cx="164.8" cy="242.2" r="2.5"/><circle cx="160" cy="246" r="2.5"/><circle cx="199.7" cy="235.1" r="2.5"/><circle cx="194" cy="232.1" r="2.5"/><circle cx="209.7" cy="245.9" r="2.5"/><circle cx="152.1" cy="236" r="2.5"/><circle cx="136.1" cy="224.6" r="2.5"/><circle cx="159.7" cy="225" r="2.5"/><circle cx="162.2" cy="232.2" r="2.5"/><circle cx="141.3" cy="236.1" r="2.5"/><circle cx="188.8" cy="236.3" r="2.5"/><circle cx="212.1" cy="236.9" r="2.5"/><circle cx="164.8" cy="245.3" r="2.5"/><circle cx="207.3" cy="231.7" r="2.5"/><circle cx="157.4" cy="244.2" r="2.5"/><circle cx="191" cy="229.6" r="2.5"/><circle cx="136.5" cy="235.9" r="2.5"/><circle cx="189.3" cy="239" r="2.5"/><circle cx="169.1" cy="238.5" r="2.5"/><circle cx="169.1" cy="245.4" r="2.5"/><circle cx="151.4" cy="230.6" r="2.5"/><circle cx="218.1" cy="226.4" r="2.5"/><circle cx="189.8" cy="224" r="2.5"/><circle cx="196.6" cy="226.1" r="2.5"/><circle cx="217.1" cy="228.8" r="2.5"/><circle cx="198.3" cy="228.8" r="2.5"/><circle cx="187.9" cy="222.7" r="2.5"/><circle cx="172.1" cy="227.5" r="2.5"/><circle cx="215.8" cy="242.2" r="2.5"/><circle cx="191.9" cy="226.3" r="2.5"/><circle cx="194" cy="238.9" r="2.5"/><circle cx="173.1" cy="241.8" r="2.5"/><circle cx="148.6" cy="222.9" r="2.5"/><circle cx="146.5" cy="223.1" r="2.5"/><circle cx="191.3" cy="244.6" r="2.5"/><circle cx="143.4" cy="227.6" r="2.5"/><circle cx="181.3" cy="244.2" r="2.5"/><circle cx="192.4" cy="237.1" r="2.5"/><circle cx="202.9" cy="222.8" r="2.5"/><circle cx="200.1" cy="232.4" r="2.5"/><circle cx="140.8" cy="245.4" r="2.5"/><circle cx="135.4" cy="223.4" r="2.5"/><circle cx="190.8" cy="244.8" r="2.5"/><circle cx="171.3" cy="235.5" r="2.5"/><circle cx="183.2" cy="229.3" r="2.5"/><circle cx="187.2" cy="239.5" r="2.5"/><circle cx="131.6" cy="229.6" r="2.5"/><circle cx="219.6" cy="239.5" r="2.5"/><circle cx="192.7" cy="231.9" r="2.5"/><circle cx="189.7" cy="230.3" r="2.5"/><circle cx="151" cy="236.5" r="2.5"/><circle cx="164" cy="227.8" r="2.5"/><circle cx="184.4" cy="244.6" r="2.5"/><circle cx="139.3" cy="232.4" r="2.5"/><circle cx="154.3" cy="233" r="2.5"/><circle cx="199.7" cy="229.2" r="2.5"/><circle cx="175.6" cy="237.8" r="2.5"/><circle cx="213.1" cy="227.6" r="2.5"/><circle cx="181.2" cy="236.5" r="2.5"/><circle cx="172.8" cy="233.5" r="2.5"/><circle cx="208.1" cy="239.8" r="2.5"/><circle cx="148.4" cy="240.4" r="2.5"/><circle cx="162.5" cy="233" r="2.5"/><circle cx="159.1" cy="245" r="2.5"/><circle cx="162.5" cy="231.1" r="2.5"/><circle cx="187.8" cy="227.2" r="2.5"/><circle cx="205.4" cy="227.7" r="2.5"/><circle cx="191" cy="241.2" r="2.5"/><circle cx="212.9" cy="231.2" r="2.5"/><circle cx="205.8" cy="245.2" r="2.5"/><circle cx="186" cy="236.3" r="2.5"/><circle cx="172.2" cy="242.9" r="2.5"/><circle cx="159.5" cy="220.7" r="2.5"/><circle cx="165.6" cy="223.2" r="2.5"/><circle cx="215.6" cy="241.7" r="2.5"/><circle cx="174" cy="237.3" r="2.5"/><circle cx="208" cy="232.7" r="2.5"/><circle cx="177.9" cy="239" r="2.5"/><circle cx="167.7" cy="227.7" r="2.5"/><circle cx="198.1" cy="224.4" r="2.5"/><circle cx="158.5" cy="236.8" r="2.5"/><circle cx="205.8" cy="221.8" r="2.5"/><circle cx="193.8" cy="233" r="2.5"/><circle cx="154.4" cy="225.7" r="2.5"/><circle cx="138.1" cy="239.4" r="2.5"/><circle cx="135.5" cy="228.5" r="2.5"/><circle cx="146.7" cy="227" r="2.5"/><circle cx="158.4" cy="239.2" r="2.5"/><circle cx="202.8" cy="234.2" r="2.5"/><circle cx="158.9" cy="245.2" r="2.5"/><circle cx="199.8" cy="240" r="2.5"/><circle cx="183.6" cy="229.3" r="2.5"/><circle cx="204.6" cy="241.5" r="2.5"/><circle cx="206.5" cy="231.4" r="2.5"/><circle cx="207" cy="234.6" r="2.5"/><circle cx="212.8" cy="241.1" r="2.5"/><circle cx="159.9" cy="232.7" r="2.5"/><circle cx="203" cy="243.9" r="2.5"/><circle cx="214.7" cy="237.2" r="2.5"/><circle cx="191.1" cy="234" r="2.5"/><circle cx="177.3" cy="235.4" r="2.5"/><circle cx="209.5" cy="245.2" r="2.5"/><circle cx="208" cy="224.3" r="2.5"/><circle cx="147.2" cy="228.1" r="2.5"/><circle cx="218.3" cy="225.6" r="2.5"/><circle cx="208.4" cy="229.1" r="2.5"/><circle cx="135.6" cy="235.5" r="2.5"/><circle cx="205.7" cy="225.1" r="2.5"/><circle cx="182.8" cy="232.9" r="2.5"/><circle cx="143" cy="239.1" r="2.5"/><circle cx="157.4" cy="239.4" r="2.5"/><circle cx="148.2" cy="225.6" r="2.5"/><circle cx="215.1" cy="236.3" r="2.5"/><circle cx="159.8" cy="224.4" r="2.5"/><circle cx="176.1" cy="222.5" r="2.5"/><circle cx="214.9" cy="239.4" r="2.5"/><circle cx="155.9" cy="225" r="2.5"/><circle cx="135.7" cy="225.3" r="2.5"/><circle cx="162.2" cy="221.9" r="2.5"/><circle cx="163.8" cy="229.4" r="2.5"/><circle cx="194" cy="233.6" r="2.5"/><circle cx="140.4" cy="240.8" r="2.5"/><circle cx="140.5" cy="243.7" r="2.5"/><circle cx="173.6" cy="238.3" r="2.5"/><circle cx="175.2" cy="237.4" r="2.5"/><circle cx="174" cy="245.2" r="2.5"/><circle cx="179.6" cy="227.2" r="2.5"/><circle cx="186.1" cy="227.1" r="2.5"/><circle cx="151.3" cy="229" r="2.5"/><circle cx="142.5" cy="229.6" r="2.5"/><circle cx="170.9" cy="234.3" r="2.5"/><circle cx="130.6" cy="236.3" r="2.5"/><circle cx="206" cy="242" r="2.5"/><circle cx="217.3" cy="228.5" r="2.5"/><circle cx="171.6" cy="232.3" r="2.5"/><circle cx="159.8" cy="240.6" r="2.5"/><circle cx="137.1" cy="227.8" r="2.5"/><circle cx="153.6" cy="228.3" r="2.5"/><circle cx="200.3" cy="222.5" r="2.5"/><circle cx="187.7" cy="241.2" r="2.5"/><circle cx="193.5" cy="223.1" r="2.5"/><circle cx="152.9" cy="234.5" r="2.5"/><circle cx="179.9" cy="241.9" r="2.5"/><circle cx="216.3" cy="232.5" r="2.5"/><circle cx="170.6" cy="239.1" r="2.5"/><circle cx="214" cy="231.6" r="2.5"/><circle cx="202.4" cy="237.5" r="2.5"/><circle cx="166.3" cy="241" r="2.5"/><circle cx="131.3" cy="239.3" r="2.5"/><circle cx="212.4" cy="235.1" r="2.5"/><circle cx="217.2" cy="223.2" r="2.5"/><circle cx="151.5" cy="223.2" r="2.5"/><circle cx="163.1" cy="234" r="2.5"/><circle cx="153.1" cy="243" r="2.5"/><circle cx="145.6" cy="226" r="2.5"/><circle cx="138.5" cy="243.8" r="2.5"/><circle cx="209.8" cy="235.4" r="2.5"/><circle cx="153.3" cy="224.4" r="2.5"/><circle cx="184.7" cy="223.7" r="2.5"/><circle cx="130.6" cy="238.7" r="2.5"/><circle cx="141.4" cy="223.9" r="2.5"/><circle cx="191.6" cy="234.7" r="2.5"/><circle cx="192.9" cy="224.1" r="2.5"/><circle cx="210.3" cy="235.4" r="2.5"/><circle cx="209.7" cy="236.4" r="2.5"/><circle cx="166" cy="244.1" r="2.5"/><circle cx="193.5" cy="245.6" r="2.5"/><circle cx="218.2" cy="240.4" r="2.5"/><circle cx="216.5" cy="238.8" r="2.5"/><circle cx="203.3" cy="234.1" r="2.5"/><circle cx="206.9" cy="230.3" r="2.5"/><circle cx="136" cy="233.1" r="2.5"/><circle cx="140.9" cy="240.7" r="2.5"/><circle cx="212.7" cy="234.7" r="2.5"/><circle cx="185.8" cy="225.5" r="2.5"/><circle cx="160.1" cy="242.9" r="2.5"/><circle cx="196.3" cy="225.4" r="2.5"/><circle cx="143.7" cy="238.1" r="2.5"/><circle cx="174" cy="246" r="2.5"/><circle cx="168.8" cy="244.5" r="2.5"/><circle cx="186.3" cy="239.6" r="2.5"/><circle cx="204.8" cy="227.2" r="2.5"/><circle cx="143.7" cy="228.4" r="2.5"/><circle cx="150" cy="225.3" r="2.5"/><circle cx="208.1" cy="226.2" r="2.5"/><circle cx="164.5" cy="230.7" r="2.5"/><circle cx="184.9" cy="235.6" r="2.5"/><circle cx="195.4" cy="235.2" r="2.5"/><circle cx="134" cy="238.3" r="2.5"/><circle cx="219.6" cy="241.8" r="2.5"/><circle cx="177.2" cy="225.4" r="2.5"/><circle cx="183.2" cy="229.8" r="2.5"/><circle cx="152.7" cy="226.8" r="2.5"/><circle cx="163.7" cy="220.9" r="2.5"/><circle cx="209.2" cy="240.2" r="2.5"/><circle cx="170.2" cy="238.8" r="2.5"/><circle cx="199.9" cy="226.4" r="2.5"/><circle cx="138.9" cy="232.2" r="2.5"/><circle cx="205.7" cy="237.1" r="2.5"/><circle cx="208.1" cy="243.1" r="2.5"/><circle cx="132.7" cy="224.1" r="2.5"/><circle cx="194.3" cy="236" r="2.5"/><circle cx="210.1" cy="239.8" r="2.5"/><circle cx="198.7" cy="243.4" r="2.5"/><circle cx="191.5" cy="233.8" r="2.5"/><circle cx="216.3" cy="231.8" r="2.5"/><circle cx="135.8" cy="234.3" r="2.5"/><circle cx="182.5" cy="228.6" r="2.5"/><circle cx="216" cy="242.1" r="2.5"/><circle cx="163.9" cy="241.2" r="2.5"/><circle cx="213.8" cy="229.2" r="2.5"/><circle cx="201.2" cy="241.4" r="2.5"/><circle cx="142.4" cy="246" r="2.5"/><circle cx="142.2" cy="226.4" r="2.5"/><circle cx="187.4" cy="220.9" r="2.5"/><circle cx="217" cy="222" r="2.5"/><circle cx="132.3" cy="235.3" r="2.5"/><circle cx="182.5" cy="235.5" r="2.5"/><circle cx="166.1" cy="237.7" r="2.5"/><circle cx="142.5" cy="227.4" r="2.5"/><circle cx="186" cy="239.3" r="2.5"/><circle cx="165.7" cy="222.3" r="2.5"/><circle cx="152.8" cy="229" r="2.5"/><circle cx="161.8" cy="230.3" r="2.5"/><circle cx="204.7" cy="227.1" r="2.5"/><circle cx="152.7" cy="226.3" r="2.5"/><circle cx="144.8" cy="228.7" r="2.5"/><circle cx="209" cy="224.4" r="2.5"/><circle cx="218.9" cy="230" r="2.5"/><circle cx="171.6" cy="222.5" r="2.5"/><circle cx="201.8" cy="232.9" r="2.5"/><circle cx="163.4" cy="238.9" r="2.5"/><circle cx="153.4" cy="242.7" r="2.5"/><circle cx="148.9" cy="224.7" r="2.5"/><circle cx="141.6" cy="245.3" r="2.5"/><circle cx="215.8" cy="227.3" r="2.5"/><circle cx="191" cy="228.9" r="2.5"/><circle cx="203.7" cy="224.3" r="2.5"/><circle cx="141.3" cy="245.4" r="2.5"/><circle cx="198.7" cy="225.2" r="2.5"/><circle cx="134" cy="228.1" r="2.5"/><circle cx="197.2" cy="229.9" r="2.5"/><circle cx="212.9" cy="240.3" r="2.5"/><circle cx="182.4" cy="239.5" r="2.5"/><circle cx="175.4" cy="232.9" r="2.5"/><circle cx="215.3" cy="234" r="2.5"/><circle cx="217.6" cy="223.5" r="2.5"/><circle cx="160.4" cy="234.8" r="2.5"/><circle cx="196.1" cy="223.1" r="2.5"/><circle cx="165.5" cy="229.7" r="2.5"/><circle cx="169.2" cy="224.6" r="2.5"/><circle cx="135.4" cy="242.2" r="2.5"/><circle cx="211" cy="235.7" r="2.5"/><circle cx="214.1" cy="228.3" r="2.5"/><circle cx="141.9" cy="227.3" r="2.5"/><circle cx="144.2" cy="239.1" r="2.5"/><circle cx="205.6" cy="227" r="2.5"/><circle cx="150.2" cy="239.1" r="2.5"/><circle cx="158.6" cy="244" r="2.5"/><circle cx="170.8" cy="233.7" r="2.5"/><circle cx="217.7" cy="231.4" r="2.5"/><circle cx="197.1" cy="223.5" r="2.5"/><circle cx="201" cy="229.7" r="2.5"/><circle cx="181.3" cy="238.3" r="2.5"/><circle cx="137.6" cy="229.7" r="2.5"/><circle cx="148" cy="236.5" r="2.5"/><circle cx="216.6" cy="235.8" r="2.5"/><circle cx="189.5" cy="225.4" r="2.5"/><circle cx="133.3" cy="236.4" r="2.5"/><circle cx="197.1" cy="243.8" r="2.5"/><circle cx="168" cy="235.2" r="2.5"/><circle cx="144.2" cy="232.9" r="2.5"/><circle cx="158.2" cy="237.2" r="2.5"/><circle cx="131" cy="224.6" r="2.5"/><circle cx="168.5" cy="225.3" r="2.5"/><circle cx="189.9" cy="222.1" r="2.5"/><circle cx="134.9" cy="226" r="2.5"/><circle cx="205.1" cy="232.8" r="2.5"/><circle cx="208.7" cy="231.4" r="2.5"/><circle cx="212.8" cy="239.1" r="2.5"/><circle cx="155.8" cy="221.7" r="2.5"/><circle cx="137.1" cy="245.3" r="2.5"/><circle cx="194.9" cy="236" r="2.5"/><circle cx="206.4" cy="228.7" r="2.5"/><circle cx="175.3" cy="233.6" r="2.5"/><circle cx="157.7" cy="231.9" r="2.5"/><circle cx="191.4" cy="224.6" r="2.5"/><circle cx="139.6" cy="223.9" r="2.5"/><circle cx="207.1" cy="236.4" r="2.5"/><circle cx="152.7" cy="229.8" r="2.5"/><circle cx="189.6" cy="229" r="2.5"/><circle cx="151.7" cy="241.3" r="2.5"/><circle cx="202.5" cy="235" r="2.5"/><circle cx="212.9" cy="233.7" r="2.5"/><circle cx="211.2" cy="221.9" r="2.5"/><circle cx="138.6" cy="225.4" r="2.5"/><circle cx="218.6" cy="232.8" r="2.5"/><circle cx="177.8" cy="224.3" r="2.5"/><circle cx="130.1" cy="235.5" r="2.5"/><circle cx="179.9" cy="231.9" r="2.5"/><circle cx="181" cy="238.7" r="2.5"/><circle cx="134" cy="228.5" r="2.5"/><circle cx="159.2" cy="225.9" r="2.5"/><circle cx="149" cy="240.8" r="2.5"/><circle cx="182.9" cy="227.2" r="2.5"/><circle cx="183.5" cy="227.5" r="2.5"/><circle cx="212.5" cy="241.1" r="2.5"/><circle cx="215.7" cy="226.3" r="2.5"/><circle cx="138" cy="240.4" r="2.5"/><circle cx="156.8" cy="226.7" r="2.5"/><circle cx="151.6" cy="223.8" r="2.5"/><circle cx="209.3" cy="227.7" r="2.5"/><circle cx="137.9" cy="242.9" r="2.5"/><circle cx="191.7" cy="243.6" r="2.5"/><circle cx="140.6" cy="223.8" r="2.5"/><circle cx="155" cy="230.5" r="2.5"/><circle cx="146.9" cy="245.6" r="2.5"/><circle cx="160.9" cy="224.4" r="2.5"/><circle cx="207.9" cy="240.8" r="2.5"/><circle cx="155.7" cy="241.3" r="2.5"/><circle cx="137.2" cy="243.7" r="2.5"/><circle cx="159.1" cy="206.1" r="2.5"/><circle cx="163.2" cy="207.4" r="2.5"/><circle cx="145" cy="211.5" r="2.5"/><circle cx="149.4" cy="212.8" r="2.5"/><circle cx="172.6" cy="208.7" r="2.5"/><circle cx="175.1" cy="208.7" r="2.5"/><circle cx="173.2" cy="213" r="2.5"/><circle cx="186" cy="207.4" r="2.5"/><circle cx="188.6" cy="210.2" r="2.5"/><circle cx="206.4" cy="210.9" r="2.5"/><circle cx="212.5" cy="213.7" r="2.5"/><circle cx="219.6" cy="214.3" r="2.5"/><circle cx="161.3" cy="213" r="2.5"/><circle cx="164.5" cy="214.9" r="2.5"/><circle cx="156.3" cy="217.4" r="2.5"/><circle cx="160.1" cy="218.7" r="2.5"/><circle cx="142.3" cy="218.1" r="2.5"/><circle cx="130" cy="219.3" r="2.5"/><circle cx="182" cy="214.3" r="2.5"/><circle cx="185.1" cy="216.8" r="2.5"/><circle cx="190.8" cy="216.8" r="2.5"/><circle cx="195.8" cy="215.5" r="2.5"/><circle cx="210.2" cy="218.1" r="2.5"/><circle cx="205.2" cy="220.6" r="2.5"/><circle cx="178.2" cy="216.8" r="2.5"/><circle cx="170.1" cy="218.1" r="2.5"/><circle cx="180.1" cy="218.1" r="2.5"/><circle cx="133.8" cy="221.2" r="2.5"/><circle cx="138.8" cy="222.4" r="2.5"/><circle cx="142.5" cy="221.2" r="2.5"/><circle cx="156.3" cy="221.2" r="2.5"/><circle cx="158.8" cy="216.8" r="2.5"/><circle cx="165.1" cy="218.7" r="2.5"/><circle cx="167.6" cy="216.8" r="2.5"/><circle cx="170.1" cy="221.2" r="2.5"/><circle cx="173.9" cy="216.8" r="2.5"/><circle cx="176.4" cy="219.9" r="2.5"/><circle cx="182.6" cy="218.7" r="2.5"/><circle cx="186.4" cy="220.6" r="2.5"/><circle cx="188.9" cy="219.3" r="2.5"/><circle cx="192.7" cy="219.9" r="2.5"/><circle cx="197.7" cy="219.3" r="2.5"/><circle cx="201.4" cy="219.9" r="2.5"/><circle cx="207.7" cy="221.2" r="2.5"/><circle cx="211.5" cy="220.6" r="2.5"/><circle cx="215.2" cy="221.2" r="2.5"/><circle cx="218.3" cy="219.3" r="2.5"/><circle cx="173.2" cy="210.5" r="2.5"/><circle cx="186.4" cy="211.8" r="2.5"/><circle cx="190.2" cy="213.7" r="2.5"/><circle cx="221.5" cy="227.4" r="2.5"/><circle cx="232.9" cy="230.3" r="2.5"/><circle cx="224.7" cy="235.9" r="2.5"/><circle cx="245.4" cy="232" r="2.5"/><circle cx="241.3" cy="243.6" r="2.5"/><circle cx="229.4" cy="232.2" r="2.5"/><circle cx="231.3" cy="243" r="2.5"/><circle cx="224.5" cy="235.5" r="2.5"/><circle cx="247.5" cy="245.6" r="2.5"/><circle cx="245.3" cy="225.2" r="2.5"/><circle cx="252.7" cy="233.3" r="2.5"/><circle cx="229.5" cy="225" r="2.5"/><circle cx="251.7" cy="231.2" r="2.5"/><circle cx="241.5" cy="232.9" r="2.5"/><circle cx="226.5" cy="241.6" r="2.5"/><circle cx="256.3" cy="242.1" r="2.5"/><circle cx="228.9" cy="236.3" r="2.5"/><circle cx="227.7" cy="244.8" r="2.5"/><circle cx="220.9" cy="229.3" r="2.5"/><circle cx="234.4" cy="236.8" r="2.5"/><circle cx="220.6" cy="229.3" r="2.5"/><circle cx="239.3" cy="227.9" r="2.5"/><circle cx="236.7" cy="223.5" r="2.5"/><circle cx="226.8" cy="224.2" r="2.5"/><circle cx="237.3" cy="229.2" r="2.5"/><circle cx="222.8" cy="223" r="2.5"/><circle cx="230.8" cy="230.3" r="2.5"/><circle cx="226.1" cy="223.5" r="2.5"/><circle cx="247.3" cy="233.6" r="2.5"/><circle cx="230.6" cy="221.7" r="2.5"/><circle cx="241.2" cy="229.3" r="2.5"/><circle cx="249" cy="231.2" r="2.5"/><circle cx="232.1" cy="223.7" r="2.5"/><circle cx="250.3" cy="242.6" r="2.5"/><circle cx="223.5" cy="241.4" r="2.5"/><circle cx="252" cy="241.7" r="2.5"/><circle cx="258.3" cy="239.2" r="2.5"/><circle cx="234.6" cy="233.5" r="2.5"/><circle cx="251.9" cy="237.6" r="2.5"/><circle cx="226.7" cy="236.6" r="2.5"/><circle cx="237.2" cy="224.2" r="2.5"/><circle cx="244.6" cy="226.5" r="2.5"/><circle cx="243.4" cy="244.9" r="2.5"/><circle cx="256.4" cy="240.5" r="2.5"/><circle cx="231.5" cy="232" r="2.5"/><circle cx="249.1" cy="228.3" r="2.5"/><circle cx="236.2" cy="233.3" r="2.5"/><circle cx="249.7" cy="240.7" r="2.5"/><circle cx="258.2" cy="238.7" r="2.5"/><circle cx="248.7" cy="245.7" r="2.5"/><circle cx="221.3" cy="232.7" r="2.5"/><circle cx="221.7" cy="241.6" r="2.5"/><circle cx="222.7" cy="236" r="2.5"/><circle cx="225.5" cy="244" r="2.5"/><circle cx="223.5" cy="242.1" r="2.5"/><circle cx="248.5" cy="240.8" r="2.5"/><circle cx="241.2" cy="233" r="2.5"/><circle cx="252.1" cy="229.5" r="2.5"/><circle cx="234.6" cy="235.7" r="2.5"/><circle cx="228.7" cy="236.2" r="2.5"/><circle cx="232.7" cy="233.8" r="2.5"/><circle cx="240.1" cy="225.6" r="2.5"/><circle cx="235.6" cy="239.1" r="2.5"/><circle cx="251.8" cy="243.5" r="2.5"/><circle cx="250" cy="234.4" r="2.5"/><circle cx="224.5" cy="243.5" r="2.5"/><circle cx="231.6" cy="226.8" r="2.5"/><circle cx="251.4" cy="240.5" r="2.5"/><circle cx="244.4" cy="235.4" r="2.5"/><circle cx="244.3" cy="241.2" r="2.5"/><circle cx="236.2" cy="240.1" r="2.5"/><circle cx="242.8" cy="224.5" r="2.5"/><circle cx="231.8" cy="235.6" r="2.5"/><circle cx="227" cy="235.7" r="2.5"/><circle cx="220.8" cy="240.3" r="2.5"/><circle cx="251.3" cy="242.7" r="2.5"/><circle cx="229.7" cy="232.4" r="2.5"/><circle cx="234.3" cy="225.7" r="2.5"/><circle cx="222.5" cy="242.5" r="2.5"/><circle cx="242.3" cy="227.4" r="2.5"/><circle cx="225.7" cy="223.7" r="2.5"/><circle cx="253.1" cy="230.7" r="2.5"/><circle cx="257" cy="243.1" r="2.5"/><circle cx="255.3" cy="234.3" r="2.5"/><circle cx="232.1" cy="233" r="2.5"/><circle cx="236.9" cy="238.1" r="2.5"/><circle cx="243.6" cy="237.9" r="2.5"/><circle cx="251" cy="243.2" r="2.5"/><circle cx="233.1" cy="239.9" r="2.5"/><circle cx="237.8" cy="233.6" r="2.5"/><circle cx="226.8" cy="242.8" r="2.5"/><circle cx="229.3" cy="244.8" r="2.5"/><circle cx="229.1" cy="240.6" r="2.5"/><circle cx="244.7" cy="243" r="2.5"/><circle cx="223.1" cy="244.1" r="2.5"/><circle cx="232.1" cy="226.5" r="2.5"/><circle cx="224.7" cy="239.7" r="2.5"/><circle cx="243.3" cy="232.1" r="2.5"/><circle cx="223.9" cy="242.1" r="2.5"/><circle cx="249" cy="242.4" r="2.5"/><circle cx="228.5" cy="230" r="2.5"/><circle cx="257.6" cy="238.5" r="2.5"/><circle cx="227.4" cy="231.4" r="2.5"/><circle cx="223.6" cy="246" r="2.5"/><circle cx="226.8" cy="230.8" r="2.5"/><circle cx="250.1" cy="243.9" r="2.5"/><circle cx="220" cy="231.7" r="2.5"/><circle cx="220.9" cy="243.3" r="2.5"/><circle cx="229.7" cy="239.6" r="2.5"/><circle cx="255.3" cy="235.8" r="2.5"/><circle cx="246.4" cy="225.6" r="2.5"/><circle cx="235.6" cy="242.4" r="2.5"/><circle cx="222.6" cy="222.8" r="2.5"/><circle cx="227" cy="236.3" r="2.5"/><circle cx="227.3" cy="230.8" r="2.5"/><circle cx="236" cy="230.1" r="2.5"/><circle cx="251.9" cy="235.6" r="2.5"/><circle cx="247.7" cy="242.4" r="2.5"/><circle cx="229.2" cy="238.2" r="2.5"/><circle cx="257.8" cy="240" r="2.5"/><circle cx="231.1" cy="236.5" r="2.5"/><circle cx="229.6" cy="226.2" r="2.5"/><circle cx="240.6" cy="238.2" r="2.5"/><circle cx="252.5" cy="232" r="2.5"/><circle cx="231.3" cy="222.9" r="2.5"/><circle cx="241.9" cy="228" r="2.5"/><circle cx="228.9" cy="245.7" r="2.5"/><circle cx="228.8" cy="223.1" r="2.5"/><circle cx="222.7" cy="241.3" r="2.5"/><circle cx="226.3" cy="221.4" r="2.5"/><circle cx="251.1" cy="234.9" r="2.5"/><circle cx="253.3" cy="240.4" r="2.5"/><circle cx="233" cy="228.6" r="2.5"/><circle cx="269.3" cy="240.2" r="2.5"/><circle cx="262.5" cy="230.3" r="2.5"/><circle cx="264.2" cy="225.2" r="2.5"/><circle cx="273.2" cy="238.8" r="2.5"/><circle cx="276.5" cy="230.9" r="2.5"/><circle cx="275.5" cy="238.6" r="2.5"/><circle cx="265.7" cy="226.7" r="2.5"/><circle cx="275.5" cy="235.7" r="2.5"/><circle cx="271.4" cy="236.6" r="2.5"/><circle cx="264" cy="231.1" r="2.5"/><circle cx="261.9" cy="234.2" r="2.5"/><circle cx="269.2" cy="241.5" r="2.5"/><circle cx="222.8" cy="207.8" r="2.5"/><circle cx="226.9" cy="210.5" r="2.5"/><circle cx="221.3" cy="214.3" r="2.5"/><circle cx="225.6" cy="216.2" r="2.5"/><circle cx="235.7" cy="215.5" r="2.5"/><circle cx="231.9" cy="219.9" r="2.5"/><circle cx="239.4" cy="220.6" r="2.5"/><circle cx="246.3" cy="221.8" r="2.5"/><circle cx="251.3" cy="224.3" r="2.5"/><circle cx="255.7" cy="228.7" r="2.5"/><circle cx="262" cy="218.1" r="2.5"/><circle cx="267.6" cy="219.3" r="2.5"/><circle cx="263.2" cy="222.4" r="2.5"/><circle cx="273.9" cy="221.8" r="2.5"/><circle cx="276.4" cy="221.8" r="2.5"/><circle cx="268.9" cy="224.9" r="2.5"/><circle cx="273.9" cy="226.8" r="2.5"/><circle cx="278.9" cy="228.1" r="2.5"/><circle cx="283.3" cy="227.4" r="2.5"/><circle cx="281.4" cy="231.8" r="2.5"/><circle cx="285.8" cy="234.3" r="2.5"/><circle cx="290.2" cy="223.1" r="2.5"/><circle cx="294.9" cy="221.8" r="2.5"/><circle cx="295.8" cy="227.4" r="2.5"/><circle cx="305.5" cy="215.2" r="2.5"/><circle cx="307.7" cy="223.7" r="2.5"/><circle cx="303.3" cy="231.2" r="2.5"/><circle cx="297.7" cy="237.5" r="2.5"/><circle cx="304" cy="236.2" r="2.5"/><circle cx="310" cy="233.1" r="2.5"/><circle cx="287" cy="240.6" r="2.5"/><circle cx="280.2" cy="236.8" r="2.5"/><circle cx="275.1" cy="234.3" r="2.5"/><circle cx="270.1" cy="236.8" r="2.5"/><circle cx="263.9" cy="230.6" r="2.5"/><circle cx="258.8" cy="233.1" r="2.5"/><circle cx="272" cy="239.4" r="2.5"/><circle cx="277.6" cy="241.2" r="2.5"/><circle cx="282.7" cy="244.4" r="2.5"/><circle cx="263.9" cy="239.4" r="2.5"/><circle cx="270.1" cy="243.1" r="2.5"/><circle cx="309.6" cy="243.1" r="2.5"/><circle cx="295.2" cy="246" r="2.5"/><circle cx="310.7" cy="222.7" r="2.5"/><circle cx="315.3" cy="228.5" r="2.5"/><circle cx="320.7" cy="224.7" r="2.5"/><circle cx="323.2" cy="226.8" r="2.5"/><circle cx="325.1" cy="229.1" r="2.5"/><circle cx="323.2" cy="235" r="2.5"/><circle cx="329.5" cy="234.3" r="2.5"/><circle cx="332.9" cy="234.6" r="2.5"/><circle cx="333.6" cy="219.6" r="2.5"/><circle cx="336.1" cy="226.8" r="2.5"/><circle cx="347.4" cy="226.2" r="2.5"/><circle cx="347.7" cy="230.8" r="2.5"/><circle cx="348.3" cy="239.1" r="2.5"/><circle cx="337.9" cy="241.2" r="2.5"/><circle cx="356.2" cy="219.6" r="2.5"/><circle cx="356.4" cy="240.6" r="2.5"/><circle cx="325.7" cy="245.6" r="2.5"/><circle cx="332" cy="245.6" r="2.5"/><circle cx="44.8" cy="251.4" r="2.5"/><circle cx="51.9" cy="247.9" r="2.5"/><circle cx="58.4" cy="261" r="2.5"/><circle cx="72.2" cy="250" r="2.5"/><circle cx="67.3" cy="271.7" r="2.5"/><circle cx="82.2" cy="247.3" r="2.5"/><circle cx="90.8" cy="247.3" r="2.5"/><circle cx="91.4" cy="251.6" r="2.5"/><circle cx="95.1" cy="252" r="2.5"/><circle cx="97.9" cy="249.8" r="2.5"/><circle cx="98.3" cy="254.5" r="2.5"/><circle cx="88.9" cy="257.7" r="2.5"/><circle cx="105.4" cy="253.3" r="2.5"/><circle cx="117.9" cy="252.3" r="2.5"/><circle cx="125.8" cy="254.8" r="2.5"/><circle cx="124.2" cy="261.9" r="2.5"/><circle cx="127.3" cy="263.9" r="2.5"/><circle cx="114.2" cy="275.7" r="2.5"/><circle cx="112.9" cy="281.1" r="2.5"/><circle cx="102.7" cy="246.6" r="2.5"/><circle cx="107.7" cy="247.3" r="2.5"/><circle cx="112.7" cy="247.9" r="2.5"/><circle cx="117.7" cy="248.5" r="2.5"/><circle cx="122.7" cy="249.8" r="2.5"/><circle cx="127.7" cy="251" r="2.5"/><circle cx="120.2" cy="246.6" r="2.5"/><circle cx="126.5" cy="247.3" r="2.5"/><circle cx="132.1" cy="249.3" r="2.5"/><circle cx="198.6" cy="247.8" r="2.5"/><circle cx="167.4" cy="252.2" r="2.5"/><circle cx="184.8" cy="247.3" r="2.5"/><circle cx="135.6" cy="247.3" r="2.5"/><circle cx="201.2" cy="247.4" r="2.5"/><circle cx="195.4" cy="250" r="2.5"/><circle cx="159.4" cy="252" r="2.5"/><circle cx="194.8" cy="250.1" r="2.5"/><circle cx="157.3" cy="246.1" r="2.5"/><circle cx="135.1" cy="250.4" r="2.5"/><circle cx="211.1" cy="248.1" r="2.5"/><circle cx="194.6" cy="246.6" r="2.5"/><circle cx="178.8" cy="247.7" r="2.5"/><circle cx="148.2" cy="250.6" r="2.5"/><circle cx="141.3" cy="246.6" r="2.5"/><circle cx="137.6" cy="246" r="2.5"/><circle cx="169.8" cy="246.9" r="2.5"/><circle cx="167.4" cy="251.3" r="2.5"/><circle cx="176.1" cy="251.5" r="2.5"/><circle cx="160.7" cy="247.5" r="2.5"/><circle cx="168.6" cy="250.6" r="2.5"/><circle cx="132.5" cy="250.1" r="2.5"/><circle cx="146.4" cy="246.8" r="2.5"/><circle cx="184.7" cy="246.5" r="2.5"/><circle cx="160.9" cy="253.6" r="2.5"/><circle cx="212.6" cy="248.6" r="2.5"/><circle cx="192" cy="250.3" r="2.5"/><circle cx="200.6" cy="249" r="2.5"/><circle cx="164.7" cy="246.5" r="2.5"/><circle cx="196.5" cy="249.8" r="2.5"/><circle cx="155.3" cy="247.1" r="2.5"/><circle cx="156.7" cy="248.4" r="2.5"/><circle cx="186.9" cy="247.3" r="2.5"/><circle cx="170.7" cy="252.6" r="2.5"/><circle cx="170.4" cy="250.9" r="2.5"/><circle cx="157.7" cy="251.5" r="2.5"/><circle cx="179.2" cy="247" r="2.5"/><circle cx="202.6" cy="249.3" r="2.5"/><circle cx="189.8" cy="248.1" r="2.5"/><circle cx="169.4" cy="253" r="2.5"/><circle cx="163.2" cy="248.7" r="2.5"/><circle cx="189.2" cy="251.6" r="2.5"/><circle cx="158.7" cy="251.3" r="2.5"/><circle cx="145.7" cy="252.9" r="2.5"/><circle cx="163.8" cy="247.9" r="2.5"/><circle cx="191.6" cy="246" r="2.5"/><circle cx="131.1" cy="249" r="2.5"/><circle cx="152.6" cy="250.8" r="2.5"/><circle cx="187.4" cy="250.4" r="2.5"/><circle cx="151.1" cy="246.6" r="2.5"/><circle cx="184.7" cy="250.9" r="2.5"/><circle cx="218.2" cy="248.7" r="2.5"/><circle cx="148.6" cy="248.4" r="2.5"/><circle cx="149.1" cy="248.2" r="2.5"/><circle cx="215.6" cy="249.2" r="2.5"/><circle cx="176" cy="250.5" r="2.5"/><circle cx="162.8" cy="246.9" r="2.5"/><circle cx="182.9" cy="249.1" r="2.5"/><circle cx="198.6" cy="250.6" r="2.5"/><circle cx="145.8" cy="251.2" r="2.5"/><circle cx="204" cy="247" r="2.5"/><circle cx="172.2" cy="248.8" r="2.5"/><circle cx="204" cy="250.8" r="2.5"/><circle cx="153.9" cy="252" r="2.5"/><circle cx="176.9" cy="248.9" r="2.5"/><circle cx="188.8" cy="249.8" r="2.5"/><circle cx="152" cy="246.4" r="2.5"/><circle cx="179.9" cy="250.8" r="2.5"/><circle cx="166.3" cy="247.1" r="2.5"/><circle cx="181.2" cy="250.3" r="2.5"/><circle cx="187.4" cy="252" r="2.5"/><circle cx="203.5" cy="249.3" r="2.5"/><circle cx="179.1" cy="249.2" r="2.5"/><circle cx="160.7" cy="250.5" r="2.5"/><circle cx="202.2" cy="250" r="2.5"/><circle cx="167.6" cy="249.8" r="2.5"/><circle cx="135.6" cy="249.8" r="2.5"/><circle cx="166.7" cy="249.6" r="2.5"/><circle cx="190.3" cy="248.2" r="2.5"/><circle cx="159.2" cy="253.7" r="2.5"/><circle cx="198.5" cy="249.3" r="2.5"/><circle cx="130.3" cy="246.6" r="2.5"/><circle cx="166.5" cy="251.9" r="2.5"/><circle cx="194.7" cy="247.2" r="2.5"/><circle cx="135" cy="259.2" r="2.5"/><circle cx="131.9" cy="257.3" r="2.5"/><circle cx="138.1" cy="264.8" r="2.5"/><circle cx="141.9" cy="265.4" r="2.5"/><circle cx="135.6" cy="272.3" r="2.5"/><circle cx="140" cy="275.4" r="2.5"/><circle cx="144.8" cy="274.6" r="2.5"/><circle cx="151.9" cy="266.7" r="2.5"/><circle cx="156.3" cy="267.3" r="2.5"/><circle cx="160.1" cy="262.3" r="2.5"/><circle cx="160.7" cy="278.3" r="2.5"/><circle cx="147.9" cy="283" r="2.5"/><circle cx="151.1" cy="285.5" r="2.5"/><circle cx="167" cy="261.7" r="2.5"/><circle cx="170.1" cy="259.8" r="2.5"/><circle cx="167.6" cy="269.2" r="2.5"/><circle cx="170.7" cy="273.8" r="2.5"/><circle cx="174.5" cy="264.2" r="2.5"/><circle cx="173.9" cy="268.6" r="2.5"/><circle cx="176.4" cy="277.1" r="2.5"/><circle cx="179.9" cy="281.3" r="2.5"/><circle cx="191" cy="271.4" r="2.5"/><circle cx="198.7" cy="276.5" r="2.5"/><circle cx="201.7" cy="285.8" r="2.5"/><circle cx="192.3" cy="292.1" r="2.5"/><circle cx="197" cy="264.8" r="2.5"/><circle cx="195.8" cy="260.4" r="2.5"/><circle cx="203.9" cy="257.7" r="2.5"/><circle cx="216.5" cy="259.5" r="2.5"/><circle cx="216.2" cy="265.4" r="2.5"/><circle cx="214" cy="271.7" r="2.5"/><circle cx="219.2" cy="286.7" r="2.5"/><circle cx="185.1" cy="259.8" r="2.5"/><circle cx="189.5" cy="257.3" r="2.5"/><circle cx="180.1" cy="256" r="2.5"/><circle cx="175.1" cy="257.9" r="2.5"/><circle cx="160.1" cy="257.3" r="2.5"/><circle cx="150.1" cy="255.4" r="2.5"/><circle cx="142.5" cy="256" r="2.5"/><circle cx="137.5" cy="254.8" r="2.5"/><circle cx="132.5" cy="252.3" r="2.5"/><circle cx="207.7" cy="252.9" r="2.5"/><circle cx="217.7" cy="252.3" r="2.5"/><circle cx="196.4" cy="254.8" r="2.5"/><circle cx="155.1" cy="254.8" r="2.5"/><circle cx="166.3" cy="256" r="2.5"/><circle cx="182.6" cy="252.3" r="2.5"/><circle cx="173.9" cy="252.3" r="2.5"/><circle cx="190.2" cy="252.3" r="2.5"/><circle cx="200.2" cy="251" r="2.5"/><circle cx="161.3" cy="252.3" r="2.5"/><circle cx="137.5" cy="249.8" r="2.5"/><circle cx="145" cy="251" r="2.5"/><circle cx="212.1" cy="247.9" r="2.5"/><circle cx="217.7" cy="248.5" r="2.5"/><circle cx="205.2" cy="248.5" r="2.5"/><circle cx="247.6" cy="247.3" r="2.5"/><circle cx="253.8" cy="247.9" r="2.5"/><circle cx="256.3" cy="251" r="2.5"/><circle cx="259.5" cy="248.5" r="2.5"/><circle cx="270.4" cy="250" r="2.5"/><circle cx="280.2" cy="247.9" r="2.5"/><circle cx="288.9" cy="247" r="2.5"/><circle cx="298.3" cy="249.8" r="2.5"/><circle cx="308.3" cy="249.4" r="2.5"/><circle cx="237.3" cy="251.6" r="2.5"/><circle cx="233.8" cy="254.8" r="2.5"/><circle cx="232.5" cy="260.4" r="2.5"/><circle cx="228.8" cy="251" r="2.5"/><circle cx="223.8" cy="249.8" r="2.5"/><circle cx="221.3" cy="253.5" r="2.5"/><circle cx="221.3" cy="259.2" r="2.5"/><circle cx="224.8" cy="262.3" r="2.5"/><circle cx="240.7" cy="259.5" r="2.5"/><circle cx="243.2" cy="262.3" r="2.5"/><circle cx="245.1" cy="265.4" r="2.5"/><circle cx="249.1" cy="260.2" r="2.5"/><circle cx="254.5" cy="264.4" r="2.5"/><circle cx="259.2" cy="263.2" r="2.5"/><circle cx="268.5" cy="257" r="2.5"/><circle cx="291.8" cy="259.2" r="2.5"/><circle cx="295.2" cy="261.7" r="2.5"/><circle cx="300.8" cy="261" r="2.5"/><circle cx="296.7" cy="264.4" r="2.5"/><circle cx="229" cy="268.8" r="2.5"/><circle cx="222.3" cy="273.2" r="2.5"/><circle cx="228.8" cy="276.3" r="2.5"/><circle cx="233.2" cy="275.4" r="2.5"/><circle cx="222.5" cy="283.6" r="2.5"/><circle cx="225.6" cy="285.1" r="2.5"/><circle cx="246.1" cy="287.1" r="2.5"/><circle cx="261.4" cy="278.8" r="2.5"/><circle cx="273.3" cy="272.6" r="2.5"/><circle cx="316.3" cy="254.5" r="2.5"/><circle cx="325.7" cy="247" r="2.5"/><circle cx="332" cy="247.3" r="2.5"/><circle cx="346" cy="255.8" r="2.5"/><circle cx="344.9" cy="266.3" r="2.5"/><circle cx="330.8" cy="271.4" r="2.5"/><circle cx="331.4" cy="288" r="2.5"/><circle cx="312" cy="247" r="2.5"/><circle cx="64.8" cy="306.5" r="2.5"/><circle cx="109.5" cy="299.4" r="2.5"/><circle cx="126.5" cy="298.6" r="2.5"/><circle cx="129.6" cy="300.9" r="2.5"/><circle cx="122.3" cy="330.6" r="2.5"/><circle cx="137.5" cy="307.5" r="2.5"/><circle cx="210.8" cy="311.2" r="2.5"/><circle cx="215.6" cy="328.7" r="2.5"/><circle cx="220" cy="310.9" r="2.5"/><circle cx="230.7" cy="306.8" r="2.5"/><circle cx="229.8" cy="319.1" r="2.5"/><circle cx="255.7" cy="316.6" r="2.5"/><circle cx="253.5" cy="321.2" r="2.5"/><circle cx="283.5" cy="304.7" r="2.5"/><circle cx="287.7" cy="328.7" r="2.5"/><circle cx="317.3" cy="303.6" r="2.5"/><circle cx="315.5" cy="305.7" r="2.5"/><circle cx="334.8" cy="302.1" r="2.5"/><circle cx="354.8" cy="326.8" r="2.5"/><circle cx="239.4" cy="253.2" r="2.5"/><circle cx="223.2" cy="254.3" r="2.5"/><circle cx="251.9" cy="250.5" r="2.5"/><circle cx="227.6" cy="247.4" r="2.5"/><circle cx="237.4" cy="250.1" r="2.5"/><circle cx="248.9" cy="248.5" r="2.5"/><circle cx="221.5" cy="246.8" r="2.5"/><circle cx="220.8" cy="254.2" r="2.5"/><circle cx="258.9" cy="249.7" r="2.5"/><circle cx="259.9" cy="247" r="2.5"/><circle cx="222.5" cy="251" r="2.5"/><circle cx="234.7" cy="250.9" r="2.5"/><circle cx="245.9" cy="251.6" r="2.5"/><circle cx="227.8" cy="250.1" r="2.5"/><circle cx="225.1" cy="251.8" r="2.5"/><circle cx="224.8" cy="250.9" r="2.5"/><circle cx="224.2" cy="249.6" r="2.5"/><circle cx="165.1" cy="256.5" r="2.5"/><circle cx="139.8" cy="257.4" r="2.5"/><circle cx="187.9" cy="253.2" r="2.5"/><circle cx="195" cy="255.3" r="2.5"/><circle cx="147.9" cy="250.8" r="2.5"/><circle cx="216.1" cy="253.9" r="2.5"/><circle cx="208.4" cy="249.9" r="2.5"/><circle cx="165.5" cy="253.5" r="2.5"/><circle cx="135.9" cy="255.1" r="2.5"/><circle cx="134.7" cy="252.4" r="2.5"/><circle cx="140.5" cy="257.4" r="2.5"/><circle cx="144.8" cy="256.7" r="2.5"/><circle cx="139.4" cy="253.5" r="2.5"/><circle cx="213.2" cy="253.1" r="2.5"/><circle cx="143.5" cy="256.3" r="2.5"/><circle cx="203.2" cy="250.6" r="2.5"/><circle cx="188.7" cy="252.9" r="2.5"/><circle cx="153.4" cy="254.1" r="2.5"/><circle cx="199.9" cy="250.6" r="2.5"/><circle cx="131.7" cy="254.2" r="2.5"/><circle cx="210.1" cy="254.2" r="2.5"/>
</g><g fill="#e8281e">
<circle cx="92.4" cy="232.8" r="2.5"/><circle cx="129.2" cy="229.1" r="2.5"/><circle cx="135.9" cy="216.8" r="2.5"/><circle cx="199.9" cy="215.9" r="2.5"/><circle cx="155.7" cy="224.3" r="2.5"/><circle cx="195.2" cy="226.8" r="2.5"/><circle cx="131.3" cy="229.3" r="2.5"/><circle cx="132.5" cy="231.2" r="2.5"/><circle cx="178.9" cy="232.1" r="2.5"/><circle cx="173" cy="235.3" r="2.5"/><circle cx="156.7" cy="235.6" r="2.5"/><circle cx="155.1" cy="240" r="2.5"/><circle cx="197.9" cy="233.7" r="2.5"/><circle cx="216.5" cy="230" r="2.5"/><circle cx="219.2" cy="224.9" r="2.5"/><circle cx="165.3" cy="245.6" r="2.5"/><circle cx="220.6" cy="224.9" r="2.5"/><circle cx="223.8" cy="233.5" r="2.5"/><circle cx="250.7" cy="232.8" r="2.5"/><circle cx="254.1" cy="236.8" r="2.5"/><circle cx="222.5" cy="243.7" r="2.5"/><circle cx="236.3" cy="243.7" r="2.5"/><circle cx="260.4" cy="244.1" r="2.5"/><circle cx="291.7" cy="245" r="2.5"/><circle cx="305" cy="221.2" r="2.5"/><circle cx="316" cy="242.2" r="2.5"/><circle cx="347.3" cy="217.2" r="2.5"/><circle cx="152.3" cy="249.1" r="2.5"/><circle cx="159.7" cy="248.1" r="2.5"/><circle cx="165.3" cy="246.6" r="2.5"/><circle cx="277.4" cy="251.3" r="2.5"/>
</g></g>
<rect x="40.5" y="199.2" width="316.2" height="156.1" fill="none" stroke="#555" stroke-width="0.9"/>
<path d="M54.5 355.3v7M101 355.3v7M147.5 355.3v7M193.9 355.3v7M240.4 355.3v7M286.9 355.3v7M333.4 355.3v7M42.9 355.3v3.7M66.1 355.3v3.7M77.7 355.3v3.7M89.4 355.3v3.7M112.6 355.3v3.7M124.2 355.3v3.7M135.8 355.3v3.7M159.1 355.3v3.7M170.7 355.3v3.7M182.3 355.3v3.7M205.6 355.3v3.7M217.2 355.3v3.7M228.8 355.3v3.7M252 355.3v3.7M263.7 355.3v3.7M275.3 355.3v3.7M298.5 355.3v3.7M310.1 355.3v3.7M321.8 355.3v3.7M345 355.3v3.7M356.6 355.3v3.7M40.5 199.3h-7.3M40.5 230.5h-7.3M40.5 261.7h-7.3M40.5 292.9h-7.3M40.5 324.1h-7.3M40.5 355.3h-7.3M40.5 207.1h-3.7M40.5 214.9h-3.7M40.5 222.7h-3.7M40.5 238.3h-3.7M40.5 246.1h-3.7M40.5 253.9h-3.7M40.5 269.5h-3.7M40.5 277.3h-3.7M40.5 285.1h-3.7M40.5 300.7h-3.7M40.5 308.5h-3.7M40.5 316.3h-3.7M40.5 331.9h-3.7M40.5 339.7h-3.7M40.5 347.5h-3.7" stroke="#666" stroke-width="0.55" fill="none"/>
<text class="t" x="54.5" y="370.6" text-anchor="middle">1.0</text>
<text class="t" x="101" y="370.6" text-anchor="middle">1.2</text>
<text class="t" x="147.5" y="370.6" text-anchor="middle">1.4</text>
<text class="t" x="193.9" y="370.6" text-anchor="middle">1.6</text>
<text class="t" x="240.4" y="370.6" text-anchor="middle">1.8</text>
<text class="t" x="286.9" y="370.6" text-anchor="middle">2.0</text>
<text class="t" x="333.4" y="370.6" text-anchor="middle">2.2</text>
<text class="t" x="30.3" y="202" text-anchor="end">−10</text>
<text class="t" x="30.3" y="233.2" text-anchor="end">−8</text>
<text class="t" x="30.3" y="264.4" text-anchor="end">−6</text>
<text class="t" x="30.3" y="295.6" text-anchor="end">−4</text>
<text class="t" x="30.3" y="326.8" text-anchor="end">−2</text>
<text class="t" x="30.3" y="358" text-anchor="end">0</text>
<clipPath id="c401_199"><rect x="401.5" y="199.2" width="316" height="156.1"/></clipPath>
<g clip-path="url(#c401_199)">
<g fill="#000">
<circle cx="441" cy="221.2" r="2.5"/><circle cx="476.2" cy="221.4" r="2.5"/><circle cx="428.6" cy="226.6" r="2.5"/><circle cx="428.2" cy="228.1" r="2.5"/><circle cx="435.1" cy="231" r="2.5"/><circle cx="444.7" cy="230.2" r="2.5"/><circle cx="446" cy="233.5" r="2.5"/><circle cx="460.4" cy="227.2" r="2.5"/><circle cx="471.1" cy="231.6" r="2.5"/><circle cx="462.3" cy="234.7" r="2.5"/><circle cx="443.2" cy="236.2" r="2.5"/><circle cx="439.8" cy="237.5" r="2.5"/><circle cx="437.6" cy="240.4" r="2.5"/><circle cx="441.4" cy="242.5" r="2.5"/><circle cx="447.6" cy="241.9" r="2.5"/><circle cx="452.6" cy="239.4" r="2.5"/><circle cx="457.6" cy="238.7" r="2.5"/><circle cx="462.7" cy="240.6" r="2.5"/><circle cx="467.7" cy="241.2" r="2.5"/><circle cx="472.1" cy="238.1" r="2.5"/><circle cx="476.4" cy="236.8" r="2.5"/><circle cx="482.1" cy="233.7" r="2.5"/><circle cx="486.5" cy="231.8" r="2.5"/><circle cx="489.6" cy="230.6" r="2.5"/><circle cx="480.2" cy="238.1" r="2.5"/><circle cx="485.2" cy="236.8" r="2.5"/><circle cx="489.6" cy="235.6" r="2.5"/><circle cx="476.4" cy="241.9" r="2.5"/><circle cx="481.5" cy="241.9" r="2.5"/><circle cx="486.5" cy="241.2" r="2.5"/><circle cx="489.6" cy="240.6" r="2.5"/><circle cx="425.7" cy="244" r="2.5"/><circle cx="423.2" cy="245.6" r="2.5"/><circle cx="415.4" cy="245.6" r="2.5"/><circle cx="442.6" cy="245" r="2.5"/><circle cx="450.1" cy="244.4" r="2.5"/><circle cx="455.8" cy="243.1" r="2.5"/><circle cx="460.2" cy="244.4" r="2.5"/><circle cx="470.2" cy="243.7" r="2.5"/><circle cx="475.2" cy="245" r="2.5"/><circle cx="482.7" cy="245" r="2.5"/><circle cx="487.7" cy="245" r="2.5"/><circle cx="465.2" cy="244.4" r="2.5"/><circle cx="560.8" cy="243.9" r="2.5"/><circle cx="542.8" cy="229.8" r="2.5"/><circle cx="500.9" cy="241.2" r="2.5"/><circle cx="491.4" cy="243.8" r="2.5"/><circle cx="517.4" cy="234.2" r="2.5"/><circle cx="536.6" cy="236" r="2.5"/><circle cx="490.6" cy="241.8" r="2.5"/><circle cx="531.4" cy="235.3" r="2.5"/><circle cx="541.7" cy="230.8" r="2.5"/><circle cx="493.3" cy="234.9" r="2.5"/><circle cx="577.8" cy="224.4" r="2.5"/><circle cx="553.2" cy="226.8" r="2.5"/><circle cx="518.3" cy="235.2" r="2.5"/><circle cx="571.7" cy="229.3" r="2.5"/><circle cx="535.4" cy="236.2" r="2.5"/><circle cx="560.7" cy="235.7" r="2.5"/><circle cx="490.3" cy="244.4" r="2.5"/><circle cx="573.4" cy="239.3" r="2.5"/><circle cx="495.8" cy="238.9" r="2.5"/><circle cx="500.6" cy="245.2" r="2.5"/><circle cx="520.2" cy="238.5" r="2.5"/><circle cx="548.2" cy="245.1" r="2.5"/><circle cx="497.1" cy="234.8" r="2.5"/><circle cx="564.3" cy="223.7" r="2.5"/><circle cx="521.1" cy="243.9" r="2.5"/><circle cx="513.8" cy="238.5" r="2.5"/><circle cx="567.5" cy="238.8" r="2.5"/><circle cx="557.6" cy="234.9" r="2.5"/><circle cx="490.1" cy="234.4" r="2.5"/><circle cx="512.6" cy="238.7" r="2.5"/><circle cx="563.4" cy="223.6" r="2.5"/><circle cx="492.9" cy="242.2" r="2.5"/><circle cx="510.4" cy="235.7" r="2.5"/><circle cx="524.3" cy="237.9" r="2.5"/><circle cx="577" cy="238" r="2.5"/><circle cx="538.5" cy="238.4" r="2.5"/><circle cx="524" cy="245.3" r="2.5"/><circle cx="556" cy="230.4" r="2.5"/><circle cx="555.3" cy="242.5" r="2.5"/><circle cx="530.7" cy="241.3" r="2.5"/><circle cx="534.3" cy="243" r="2.5"/><circle cx="543.7" cy="239.1" r="2.5"/><circle cx="501.9" cy="243.3" r="2.5"/><circle cx="510.7" cy="235.6" r="2.5"/><circle cx="520.6" cy="237" r="2.5"/><circle cx="573" cy="227.3" r="2.5"/><circle cx="551.6" cy="243.3" r="2.5"/><circle cx="570.8" cy="230.2" r="2.5"/><circle cx="574.3" cy="240.2" r="2.5"/><circle cx="571.1" cy="235.2" r="2.5"/><circle cx="548.2" cy="235.1" r="2.5"/><circle cx="564.3" cy="235.8" r="2.5"/><circle cx="557.8" cy="232.7" r="2.5"/><circle cx="516.8" cy="237.3" r="2.5"/><circle cx="551.3" cy="229" r="2.5"/><circle cx="573.7" cy="232.9" r="2.5"/><circle cx="543.8" cy="230.9" r="2.5"/><circle cx="574.6" cy="226.6" r="2.5"/><circle cx="567.6" cy="232.4" r="2.5"/><circle cx="549.7" cy="231.6" r="2.5"/><circle cx="573" cy="236.2" r="2.5"/><circle cx="577.8" cy="225.6" r="2.5"/><circle cx="578.7" cy="243.1" r="2.5"/><circle cx="547.2" cy="232.4" r="2.5"/><circle cx="575.7" cy="239.8" r="2.5"/><circle cx="515.6" cy="240.2" r="2.5"/><circle cx="511.7" cy="237.1" r="2.5"/><circle cx="530.6" cy="245.8" r="2.5"/><circle cx="578.5" cy="240" r="2.5"/><circle cx="541.9" cy="241.4" r="2.5"/><circle cx="568.7" cy="227.1" r="2.5"/><circle cx="532.8" cy="234.2" r="2.5"/><circle cx="563.5" cy="239.5" r="2.5"/><circle cx="539.9" cy="243.8" r="2.5"/><circle cx="526.9" cy="238.2" r="2.5"/><circle cx="494.7" cy="245.9" r="2.5"/><circle cx="566.5" cy="241.5" r="2.5"/><circle cx="507.3" cy="242.8" r="2.5"/><circle cx="549.5" cy="245.8" r="2.5"/><circle cx="576.3" cy="233.2" r="2.5"/><circle cx="544.9" cy="237.6" r="2.5"/><circle cx="497.5" cy="239" r="2.5"/><circle cx="564.4" cy="228.5" r="2.5"/><circle cx="535.3" cy="241.4" r="2.5"/><circle cx="549.2" cy="232.8" r="2.5"/><circle cx="505.7" cy="241.5" r="2.5"/><circle cx="524.5" cy="245.9" r="2.5"/><circle cx="497.3" cy="242.2" r="2.5"/><circle cx="549.6" cy="238.6" r="2.5"/><circle cx="530.5" cy="238.1" r="2.5"/><circle cx="519.2" cy="240" r="2.5"/><circle cx="572.4" cy="228.9" r="2.5"/><circle cx="556.5" cy="236.4" r="2.5"/><circle cx="568.1" cy="227.1" r="2.5"/><circle cx="525" cy="243.4" r="2.5"/><circle cx="493.7" cy="239.9" r="2.5"/><circle cx="524.4" cy="234.6" r="2.5"/><circle cx="576.8" cy="223.2" r="2.5"/><circle cx="550.8" cy="239" r="2.5"/><circle cx="562" cy="237.2" r="2.5"/><circle cx="542.2" cy="242.5" r="2.5"/><circle cx="493" cy="241.6" r="2.5"/><circle cx="566.6" cy="243.8" r="2.5"/><circle cx="551.6" cy="233.5" r="2.5"/><circle cx="517" cy="239.3" r="2.5"/><circle cx="570.9" cy="234.1" r="2.5"/><circle cx="495.3" cy="244.7" r="2.5"/><circle cx="546" cy="230.9" r="2.5"/><circle cx="566.4" cy="234.8" r="2.5"/><circle cx="566.4" cy="235.6" r="2.5"/><circle cx="506" cy="237.3" r="2.5"/><circle cx="576.8" cy="224.9" r="2.5"/><circle cx="526.2" cy="241.9" r="2.5"/><circle cx="528.4" cy="242.2" r="2.5"/><circle cx="562.4" cy="226.1" r="2.5"/><circle cx="542.5" cy="234.7" r="2.5"/><circle cx="558.9" cy="226.8" r="2.5"/><circle cx="491.4" cy="245.4" r="2.5"/><circle cx="538.4" cy="239.5" r="2.5"/><circle cx="495.5" cy="243.8" r="2.5"/><circle cx="546.9" cy="230.5" r="2.5"/><circle cx="565.1" cy="238.8" r="2.5"/><circle cx="535.5" cy="238.6" r="2.5"/><circle cx="579.9" cy="244.5" r="2.5"/><circle cx="546.1" cy="242.9" r="2.5"/><circle cx="569.9" cy="224" r="2.5"/><circle cx="552.5" cy="244.7" r="2.5"/><circle cx="578.2" cy="227.7" r="2.5"/><circle cx="516.7" cy="238.4" r="2.5"/><circle cx="515.1" cy="243.6" r="2.5"/><circle cx="562.4" cy="242" r="2.5"/><circle cx="578.4" cy="240.1" r="2.5"/><circle cx="498.7" cy="243.4" r="2.5"/><circle cx="505.1" cy="240.4" r="2.5"/><circle cx="493.6" cy="238.9" r="2.5"/><circle cx="533.2" cy="231.8" r="2.5"/><circle cx="545.1" cy="235.7" r="2.5"/><circle cx="558.2" cy="239" r="2.5"/><circle cx="517" cy="243.9" r="2.5"/><circle cx="557.7" cy="243" r="2.5"/><circle cx="539.1" cy="245.3" r="2.5"/><circle cx="558.7" cy="245.4" r="2.5"/><circle cx="575.4" cy="228.4" r="2.5"/><circle cx="555.9" cy="243" r="2.5"/><circle cx="578.3" cy="229.4" r="2.5"/><circle cx="507" cy="243.1" r="2.5"/><circle cx="506.2" cy="240.5" r="2.5"/><circle cx="513.9" cy="239.4" r="2.5"/><circle cx="556.6" cy="241.7" r="2.5"/><circle cx="560.1" cy="231.1" r="2.5"/><circle cx="548.4" cy="234.9" r="2.5"/><circle cx="575.3" cy="231.1" r="2.5"/><circle cx="501.4" cy="240.9" r="2.5"/><circle cx="579.7" cy="236.3" r="2.5"/><circle cx="568.3" cy="225.5" r="2.5"/><circle cx="575.1" cy="224.5" r="2.5"/><circle cx="533.8" cy="236.4" r="2.5"/><circle cx="513.2" cy="235.4" r="2.5"/><circle cx="576.2" cy="238.9" r="2.5"/><circle cx="546.9" cy="234.3" r="2.5"/><circle cx="497.7" cy="241.3" r="2.5"/><circle cx="526.1" cy="243.4" r="2.5"/><circle cx="520.5" cy="238.5" r="2.5"/><circle cx="496.7" cy="244.3" r="2.5"/><circle cx="528.6" cy="246" r="2.5"/><circle cx="544.1" cy="232.6" r="2.5"/><circle cx="573.5" cy="231.6" r="2.5"/><circle cx="490.5" cy="243" r="2.5"/><circle cx="570.9" cy="228.2" r="2.5"/><circle cx="570.6" cy="235.8" r="2.5"/><circle cx="528.3" cy="240.1" r="2.5"/><circle cx="493.4" cy="243.2" r="2.5"/><circle cx="523.6" cy="233.7" r="2.5"/><circle cx="562.2" cy="237.5" r="2.5"/><circle cx="565.4" cy="225.3" r="2.5"/><circle cx="569.4" cy="225.4" r="2.5"/><circle cx="578.8" cy="228.2" r="2.5"/><circle cx="552.6" cy="227.9" r="2.5"/><circle cx="530.8" cy="233.7" r="2.5"/><circle cx="555.9" cy="224.5" r="2.5"/><circle cx="565.5" cy="225.9" r="2.5"/><circle cx="491.2" cy="244.2" r="2.5"/><circle cx="542.3" cy="231" r="2.5"/><circle cx="548.5" cy="244.1" r="2.5"/><circle cx="504.7" cy="235.9" r="2.5"/><circle cx="506" cy="242.3" r="2.5"/><circle cx="575.8" cy="224.6" r="2.5"/><circle cx="516.2" cy="243.7" r="2.5"/><circle cx="561.9" cy="245.5" r="2.5"/><circle cx="515" cy="244.8" r="2.5"/><circle cx="523.1" cy="245.3" r="2.5"/><circle cx="530.2" cy="236" r="2.5"/><circle cx="576.3" cy="244" r="2.5"/><circle cx="501.2" cy="243.9" r="2.5"/><circle cx="567.3" cy="230.2" r="2.5"/><circle cx="492" cy="242.4" r="2.5"/><circle cx="579.3" cy="224.6" r="2.5"/><circle cx="548.4" cy="242.4" r="2.5"/><circle cx="574.9" cy="234" r="2.5"/><circle cx="564.1" cy="228" r="2.5"/><circle cx="498.2" cy="243.9" r="2.5"/><circle cx="565" cy="236.4" r="2.5"/><circle cx="531.5" cy="245.7" r="2.5"/><circle cx="522.2" cy="237.7" r="2.5"/><circle cx="564.5" cy="226.6" r="2.5"/><circle cx="561.7" cy="230" r="2.5"/><circle cx="516.1" cy="235" r="2.5"/><circle cx="570.2" cy="238.2" r="2.5"/><circle cx="570.6" cy="226.8" r="2.5"/><circle cx="560.6" cy="223" r="2.5"/><circle cx="507.1" cy="243.1" r="2.5"/><circle cx="531.8" cy="232.3" r="2.5"/><circle cx="534.3" cy="241.7" r="2.5"/><circle cx="524" cy="242.9" r="2.5"/><circle cx="579.2" cy="240.6" r="2.5"/><circle cx="557.8" cy="225.8" r="2.5"/><circle cx="573.5" cy="241.1" r="2.5"/><circle cx="563.7" cy="238.1" r="2.5"/><circle cx="495.2" cy="236.3" r="2.5"/><circle cx="552.2" cy="241.9" r="2.5"/><circle cx="492.8" cy="245.7" r="2.5"/><circle cx="493.4" cy="240.6" r="2.5"/><circle cx="570.6" cy="239.6" r="2.5"/><circle cx="569.8" cy="236.3" r="2.5"/><circle cx="561" cy="239.2" r="2.5"/><circle cx="556.3" cy="226.9" r="2.5"/><circle cx="575.1" cy="245.3" r="2.5"/><circle cx="528.9" cy="234.7" r="2.5"/><circle cx="547.8" cy="242.3" r="2.5"/><circle cx="537.9" cy="238.5" r="2.5"/><circle cx="570.9" cy="237.7" r="2.5"/><circle cx="523.5" cy="233.4" r="2.5"/><circle cx="578.9" cy="241" r="2.5"/><circle cx="573.6" cy="233.8" r="2.5"/><circle cx="516.6" cy="238.8" r="2.5"/><circle cx="546.3" cy="236.9" r="2.5"/><circle cx="511.7" cy="235.1" r="2.5"/><circle cx="574.2" cy="229.7" r="2.5"/><circle cx="561.3" cy="241" r="2.5"/><circle cx="519.5" cy="244.4" r="2.5"/><circle cx="564.1" cy="228.6" r="2.5"/><circle cx="509.1" cy="236.3" r="2.5"/><circle cx="555.9" cy="228.5" r="2.5"/><circle cx="561.8" cy="232.2" r="2.5"/><circle cx="562.8" cy="245.5" r="2.5"/><circle cx="566.5" cy="224.8" r="2.5"/><circle cx="495.1" cy="243.6" r="2.5"/><circle cx="575.5" cy="236.9" r="2.5"/><circle cx="499.3" cy="237.7" r="2.5"/><circle cx="578" cy="225.3" r="2.5"/><circle cx="533.5" cy="237.1" r="2.5"/><circle cx="558.5" cy="240.6" r="2.5"/><circle cx="498.7" cy="239.6" r="2.5"/><circle cx="522.6" cy="236.1" r="2.5"/><circle cx="519.3" cy="243.4" r="2.5"/><circle cx="577.7" cy="224.6" r="2.5"/><circle cx="553.6" cy="233.3" r="2.5"/><circle cx="562.5" cy="240.7" r="2.5"/><circle cx="570.4" cy="241.7" r="2.5"/><circle cx="536.5" cy="242.6" r="2.5"/><circle cx="559.7" cy="239.9" r="2.5"/><circle cx="548.2" cy="240.4" r="2.5"/><circle cx="563.5" cy="227.9" r="2.5"/><circle cx="564.9" cy="242.1" r="2.5"/><circle cx="562.8" cy="223.9" r="2.5"/><circle cx="562.3" cy="224.5" r="2.5"/><circle cx="557.9" cy="227.3" r="2.5"/><circle cx="572.8" cy="245.3" r="2.5"/><circle cx="576.2" cy="244.3" r="2.5"/><circle cx="563.2" cy="229.5" r="2.5"/><circle cx="544.5" cy="244.9" r="2.5"/><circle cx="559.7" cy="245.3" r="2.5"/><circle cx="515.4" cy="235.8" r="2.5"/><circle cx="567.5" cy="244.8" r="2.5"/><circle cx="571.1" cy="231.4" r="2.5"/><circle cx="569" cy="225.4" r="2.5"/><circle cx="514.1" cy="240.8" r="2.5"/><circle cx="549.1" cy="236.2" r="2.5"/><circle cx="533.3" cy="244.2" r="2.5"/><circle cx="565.6" cy="240.1" r="2.5"/><circle cx="544.9" cy="243.8" r="2.5"/><circle cx="490.8" cy="244" r="2.5"/><circle cx="556.3" cy="233.6" r="2.5"/><circle cx="554.5" cy="231.7" r="2.5"/><circle cx="575.4" cy="230.1" r="2.5"/><circle cx="550.1" cy="228.2" r="2.5"/><circle cx="491.9" cy="234.7" r="2.5"/><circle cx="532.5" cy="241.1" r="2.5"/><circle cx="557.1" cy="225.3" r="2.5"/><circle cx="514.8" cy="237.7" r="2.5"/><circle cx="527.1" cy="243.5" r="2.5"/><circle cx="569.7" cy="241.1" r="2.5"/><circle cx="522" cy="238.5" r="2.5"/><circle cx="538.9" cy="231.2" r="2.5"/><circle cx="564.4" cy="237.3" r="2.5"/><circle cx="571" cy="236.6" r="2.5"/><circle cx="519.2" cy="244.7" r="2.5"/><circle cx="509.9" cy="235.5" r="2.5"/><circle cx="558.5" cy="241.3" r="2.5"/><circle cx="528.5" cy="238.6" r="2.5"/><circle cx="497.4" cy="239.5" r="2.5"/><circle cx="517.7" cy="244.7" r="2.5"/><circle cx="554.2" cy="226" r="2.5"/><circle cx="498.8" cy="235" r="2.5"/><circle cx="510.6" cy="240.2" r="2.5"/><circle cx="564.6" cy="229.6" r="2.5"/><circle cx="507.1" cy="245.9" r="2.5"/><circle cx="510" cy="240.1" r="2.5"/><circle cx="568.8" cy="236.7" r="2.5"/><circle cx="576.8" cy="225.6" r="2.5"/><circle cx="578.5" cy="239.4" r="2.5"/><circle cx="555.3" cy="243.2" r="2.5"/><circle cx="541.5" cy="243.3" r="2.5"/><circle cx="506.8" cy="237.5" r="2.5"/><circle cx="565.1" cy="233" r="2.5"/><circle cx="557.5" cy="238.2" r="2.5"/><circle cx="553.2" cy="234.8" r="2.5"/><circle cx="566.9" cy="244.7" r="2.5"/><circle cx="523.2" cy="240.1" r="2.5"/><circle cx="568.5" cy="245.8" r="2.5"/><circle cx="574.9" cy="223.4" r="2.5"/><circle cx="515.2" cy="244.7" r="2.5"/><circle cx="574.4" cy="239.4" r="2.5"/><circle cx="548" cy="231.8" r="2.5"/><circle cx="492.1" cy="238.4" r="2.5"/><circle cx="574.4" cy="231.1" r="2.5"/><circle cx="574.6" cy="226.5" r="2.5"/><circle cx="526.2" cy="234.8" r="2.5"/><circle cx="530.8" cy="241" r="2.5"/><circle cx="495.6" cy="245.5" r="2.5"/><circle cx="573.8" cy="236.9" r="2.5"/><circle cx="568.5" cy="245.1" r="2.5"/><circle cx="544" cy="231.1" r="2.5"/><circle cx="576" cy="241.5" r="2.5"/><circle cx="503.7" cy="238.5" r="2.5"/><circle cx="552.1" cy="233.9" r="2.5"/><circle cx="545.9" cy="239.3" r="2.5"/><circle cx="558.8" cy="233.5" r="2.5"/><circle cx="536.4" cy="245.4" r="2.5"/><circle cx="543.1" cy="233.4" r="2.5"/><circle cx="546" cy="242.4" r="2.5"/><circle cx="561.4" cy="235.5" r="2.5"/><circle cx="541.5" cy="240.4" r="2.5"/><circle cx="577.3" cy="232.3" r="2.5"/><circle cx="525.1" cy="236.6" r="2.5"/><circle cx="579" cy="238" r="2.5"/><circle cx="527.4" cy="239.5" r="2.5"/><circle cx="541.5" cy="241.1" r="2.5"/><circle cx="505.7" cy="237.7" r="2.5"/><circle cx="497.5" cy="227.1" r="2.5"/><circle cx="499.4" cy="230.8" r="2.5"/><circle cx="506.9" cy="228.7" r="2.5"/><circle cx="508.8" cy="231.6" r="2.5"/><circle cx="521.3" cy="229.3" r="2.5"/><circle cx="516.9" cy="231.8" r="2.5"/><circle cx="526.3" cy="230.8" r="2.5"/><circle cx="532" cy="226.2" r="2.5"/><circle cx="533.6" cy="220.6" r="2.5"/><circle cx="536.6" cy="222.8" r="2.5"/><circle cx="538.2" cy="228.1" r="2.5"/><circle cx="544.8" cy="224.9" r="2.5"/><circle cx="548.9" cy="216.8" r="2.5"/><circle cx="553.3" cy="220.6" r="2.5"/><circle cx="555.2" cy="218.1" r="2.5"/><circle cx="557.7" cy="214.5" r="2.5"/><circle cx="564.2" cy="211.8" r="2.5"/><circle cx="562.7" cy="219.9" r="2.5"/><circle cx="567.7" cy="221.2" r="2.5"/><circle cx="574.2" cy="214" r="2.5"/><circle cx="572.7" cy="219.3" r="2.5"/><circle cx="577.7" cy="220.6" r="2.5"/><circle cx="491.3" cy="232.5" r="2.5"/><circle cx="495" cy="234.3" r="2.5"/><circle cx="503.8" cy="233.7" r="2.5"/><circle cx="513.2" cy="234.3" r="2.5"/><circle cx="548.9" cy="224.3" r="2.5"/><circle cx="558.3" cy="221.2" r="2.5"/><circle cx="593.1" cy="234" r="2.5"/><circle cx="615.8" cy="238.1" r="2.5"/><circle cx="598.2" cy="226.1" r="2.5"/><circle cx="583.7" cy="221.1" r="2.5"/><circle cx="614.7" cy="231.1" r="2.5"/><circle cx="594.1" cy="219.7" r="2.5"/><circle cx="625.4" cy="223.3" r="2.5"/><circle cx="586.6" cy="244.9" r="2.5"/><circle cx="595" cy="220.9" r="2.5"/><circle cx="584.6" cy="236.9" r="2.5"/><circle cx="597.4" cy="224.8" r="2.5"/><circle cx="612.6" cy="232.3" r="2.5"/><circle cx="619.3" cy="244.6" r="2.5"/><circle cx="614.2" cy="228.9" r="2.5"/><circle cx="582.5" cy="239.1" r="2.5"/><circle cx="623.1" cy="238.3" r="2.5"/><circle cx="611.3" cy="236.6" r="2.5"/><circle cx="607" cy="243.6" r="2.5"/><circle cx="598.8" cy="244.7" r="2.5"/><circle cx="586.1" cy="230" r="2.5"/><circle cx="613" cy="218.1" r="2.5"/><circle cx="611.1" cy="239.9" r="2.5"/><circle cx="620.5" cy="237.4" r="2.5"/><circle cx="627.6" cy="221.1" r="2.5"/><circle cx="610.2" cy="228.6" r="2.5"/><circle cx="614.7" cy="222.6" r="2.5"/><circle cx="602.2" cy="234.8" r="2.5"/><circle cx="595.4" cy="221.5" r="2.5"/><circle cx="595.6" cy="225.8" r="2.5"/><circle cx="598.1" cy="223.6" r="2.5"/><circle cx="596.7" cy="235.1" r="2.5"/><circle cx="580.4" cy="242.2" r="2.5"/><circle cx="605.3" cy="222.3" r="2.5"/><circle cx="619" cy="229.3" r="2.5"/><circle cx="607.4" cy="237.6" r="2.5"/><circle cx="615" cy="229.6" r="2.5"/><circle cx="592.3" cy="244.9" r="2.5"/><circle cx="610.6" cy="229.1" r="2.5"/><circle cx="584.1" cy="243.8" r="2.5"/><circle cx="582.2" cy="244.4" r="2.5"/><circle cx="603" cy="228.4" r="2.5"/><circle cx="612.2" cy="238.9" r="2.5"/><circle cx="580.5" cy="242.5" r="2.5"/><circle cx="598.6" cy="245.4" r="2.5"/><circle cx="617.6" cy="243.2" r="2.5"/><circle cx="599.8" cy="233.4" r="2.5"/><circle cx="625.1" cy="232.2" r="2.5"/><circle cx="591.2" cy="223" r="2.5"/><circle cx="625.6" cy="236.9" r="2.5"/><circle cx="580" cy="235.5" r="2.5"/><circle cx="585.7" cy="228.5" r="2.5"/><circle cx="589" cy="239.7" r="2.5"/><circle cx="582.4" cy="228.3" r="2.5"/><circle cx="583.9" cy="222.2" r="2.5"/><circle cx="586.9" cy="243.2" r="2.5"/><circle cx="598.5" cy="223.3" r="2.5"/><circle cx="583.6" cy="238.3" r="2.5"/><circle cx="592.1" cy="242" r="2.5"/><circle cx="587" cy="237.7" r="2.5"/><circle cx="617.7" cy="236.2" r="2.5"/><circle cx="593.9" cy="225" r="2.5"/><circle cx="613.9" cy="230.8" r="2.5"/><circle cx="615.7" cy="220.3" r="2.5"/><circle cx="612.2" cy="222.8" r="2.5"/><circle cx="618.2" cy="219.9" r="2.5"/><circle cx="614.5" cy="224.3" r="2.5"/><circle cx="624.1" cy="220.8" r="2.5"/><circle cx="625.8" cy="224.8" r="2.5"/><circle cx="586.5" cy="236.8" r="2.5"/><circle cx="600.9" cy="227.7" r="2.5"/><circle cx="605" cy="226.2" r="2.5"/><circle cx="606.3" cy="222.7" r="2.5"/><circle cx="607.4" cy="230.4" r="2.5"/><circle cx="607.6" cy="219.5" r="2.5"/><circle cx="600.3" cy="222.1" r="2.5"/><circle cx="587.4" cy="223" r="2.5"/><circle cx="591.2" cy="225.8" r="2.5"/><circle cx="605.6" cy="220.8" r="2.5"/><circle cx="616.1" cy="219.8" r="2.5"/><circle cx="598.7" cy="237.2" r="2.5"/><circle cx="608.5" cy="229.7" r="2.5"/><circle cx="618.6" cy="220.6" r="2.5"/><circle cx="608.4" cy="221.4" r="2.5"/><circle cx="619.4" cy="235.3" r="2.5"/><circle cx="614.4" cy="240.3" r="2.5"/><circle cx="607.5" cy="224" r="2.5"/><circle cx="607.4" cy="232.3" r="2.5"/><circle cx="596.8" cy="226.2" r="2.5"/><circle cx="616.9" cy="225.3" r="2.5"/><circle cx="617.3" cy="231.3" r="2.5"/><circle cx="591.5" cy="243.5" r="2.5"/><circle cx="584.4" cy="235" r="2.5"/><circle cx="622.1" cy="226.3" r="2.5"/><circle cx="597" cy="223.3" r="2.5"/><circle cx="608.3" cy="238.6" r="2.5"/><circle cx="604.7" cy="227.5" r="2.5"/><circle cx="618.6" cy="229.6" r="2.5"/><circle cx="623" cy="232.1" r="2.5"/><circle cx="612" cy="225.7" r="2.5"/><circle cx="604.5" cy="231.2" r="2.5"/><circle cx="621.8" cy="222.9" r="2.5"/><circle cx="584.4" cy="234.3" r="2.5"/><circle cx="591.3" cy="226.9" r="2.5"/><circle cx="588" cy="231.7" r="2.5"/><circle cx="588.3" cy="229.2" r="2.5"/><circle cx="613.6" cy="223.3" r="2.5"/><circle cx="593.2" cy="239" r="2.5"/><circle cx="622" cy="230.4" r="2.5"/><circle cx="604.3" cy="237" r="2.5"/><circle cx="609.9" cy="230.4" r="2.5"/><circle cx="612.9" cy="241.8" r="2.5"/><circle cx="605.1" cy="238.3" r="2.5"/><circle cx="614" cy="226.6" r="2.5"/><circle cx="617.3" cy="230.5" r="2.5"/><circle cx="599.8" cy="221.7" r="2.5"/><circle cx="624.3" cy="241.1" r="2.5"/><circle cx="619.2" cy="223.4" r="2.5"/><circle cx="604.1" cy="242.7" r="2.5"/><circle cx="614.9" cy="244.9" r="2.5"/><circle cx="597.2" cy="245.1" r="2.5"/><circle cx="599" cy="237.7" r="2.5"/><circle cx="606.4" cy="244.9" r="2.5"/><circle cx="593" cy="231.8" r="2.5"/><circle cx="597.8" cy="238.3" r="2.5"/><circle cx="622.7" cy="224.6" r="2.5"/><circle cx="590.7" cy="238.2" r="2.5"/><circle cx="615.8" cy="231.4" r="2.5"/><circle cx="611.4" cy="229.4" r="2.5"/><circle cx="615.1" cy="217.9" r="2.5"/><circle cx="625.7" cy="233.7" r="2.5"/><circle cx="591.4" cy="241.7" r="2.5"/><circle cx="606.8" cy="232.7" r="2.5"/><circle cx="614" cy="245.5" r="2.5"/><circle cx="617.9" cy="224.2" r="2.5"/><circle cx="623.2" cy="242.6" r="2.5"/><circle cx="625.2" cy="237.1" r="2.5"/><circle cx="593.8" cy="219.6" r="2.5"/><circle cx="620.8" cy="223.4" r="2.5"/><circle cx="585.8" cy="238.3" r="2.5"/><circle cx="615.7" cy="218" r="2.5"/><circle cx="620.7" cy="243.5" r="2.5"/><circle cx="594.9" cy="222" r="2.5"/><circle cx="623.2" cy="241.6" r="2.5"/><circle cx="614.6" cy="239.8" r="2.5"/><circle cx="590.2" cy="245.2" r="2.5"/><circle cx="611.5" cy="232.6" r="2.5"/><circle cx="625" cy="221.1" r="2.5"/><circle cx="600.7" cy="228.7" r="2.5"/><circle cx="590.7" cy="225.1" r="2.5"/><circle cx="581" cy="220.5" r="2.5"/><circle cx="623.4" cy="238.8" r="2.5"/><circle cx="588.2" cy="223" r="2.5"/><circle cx="619.4" cy="234" r="2.5"/><circle cx="596.3" cy="231" r="2.5"/><circle cx="580.3" cy="245.6" r="2.5"/><circle cx="599.9" cy="238.2" r="2.5"/><circle cx="586.3" cy="242.7" r="2.5"/><circle cx="600.5" cy="241.7" r="2.5"/><circle cx="614.5" cy="245.5" r="2.5"/><circle cx="595.4" cy="245.3" r="2.5"/><circle cx="604.1" cy="238" r="2.5"/><circle cx="584.7" cy="243.8" r="2.5"/><circle cx="586.1" cy="233.5" r="2.5"/><circle cx="594.3" cy="236.6" r="2.5"/><circle cx="624.3" cy="220.5" r="2.5"/><circle cx="618.1" cy="242.8" r="2.5"/><circle cx="626.7" cy="232.7" r="2.5"/><circle cx="602.1" cy="232.2" r="2.5"/><circle cx="584.6" cy="242" r="2.5"/><circle cx="605.2" cy="223.2" r="2.5"/><circle cx="608" cy="226.2" r="2.5"/><circle cx="600" cy="221.5" r="2.5"/><circle cx="625.8" cy="219.5" r="2.5"/><circle cx="617.3" cy="245.3" r="2.5"/><circle cx="595.3" cy="224" r="2.5"/><circle cx="593.3" cy="239.3" r="2.5"/><circle cx="617.3" cy="230.6" r="2.5"/><circle cx="624.9" cy="227.5" r="2.5"/><circle cx="600" cy="223.1" r="2.5"/><circle cx="594.8" cy="234.2" r="2.5"/><circle cx="585.2" cy="228.3" r="2.5"/><circle cx="609.4" cy="220" r="2.5"/><circle cx="623.3" cy="235.5" r="2.5"/><circle cx="613.9" cy="239.5" r="2.5"/><circle cx="615.6" cy="229.3" r="2.5"/><circle cx="615.5" cy="220.9" r="2.5"/><circle cx="585.7" cy="229.8" r="2.5"/><circle cx="598.3" cy="221.6" r="2.5"/><circle cx="580.6" cy="220.5" r="2.5"/><circle cx="624.7" cy="242.9" r="2.5"/><circle cx="603.3" cy="231.1" r="2.5"/><circle cx="591.2" cy="229.2" r="2.5"/><circle cx="609.3" cy="223.9" r="2.5"/><circle cx="604.2" cy="224.1" r="2.5"/><circle cx="599.1" cy="220.4" r="2.5"/><circle cx="580.4" cy="237.6" r="2.5"/><circle cx="585.9" cy="236.7" r="2.5"/><circle cx="599.1" cy="220.1" r="2.5"/><circle cx="608.2" cy="225.3" r="2.5"/><circle cx="621.4" cy="234.4" r="2.5"/><circle cx="606.7" cy="231.8" r="2.5"/><circle cx="617.5" cy="227.1" r="2.5"/><circle cx="618.6" cy="218" r="2.5"/><circle cx="589.3" cy="239.5" r="2.5"/><circle cx="600.6" cy="231.6" r="2.5"/><circle cx="621" cy="236.5" r="2.5"/><circle cx="585.8" cy="227.7" r="2.5"/><circle cx="587.9" cy="240.4" r="2.5"/><circle cx="583.8" cy="228" r="2.5"/><circle cx="599.2" cy="225" r="2.5"/><circle cx="594.4" cy="245.9" r="2.5"/><circle cx="601.7" cy="241.2" r="2.5"/><circle cx="587.4" cy="229.3" r="2.5"/><circle cx="627.3" cy="241.4" r="2.5"/><circle cx="598.3" cy="222.7" r="2.5"/><circle cx="591.4" cy="222.5" r="2.5"/><circle cx="612.2" cy="227.8" r="2.5"/><circle cx="608.1" cy="244.6" r="2.5"/><circle cx="603.7" cy="239.9" r="2.5"/><circle cx="582.2" cy="244.2" r="2.5"/><circle cx="608.4" cy="235.7" r="2.5"/><circle cx="611.8" cy="227.2" r="2.5"/><circle cx="622.3" cy="218.5" r="2.5"/><circle cx="593.8" cy="229.3" r="2.5"/><circle cx="601.8" cy="236.6" r="2.5"/><circle cx="601.6" cy="228.3" r="2.5"/><circle cx="584.9" cy="243.3" r="2.5"/><circle cx="624.5" cy="241.3" r="2.5"/><circle cx="602.8" cy="233.4" r="2.5"/><circle cx="580.6" cy="243" r="2.5"/><circle cx="615.8" cy="225" r="2.5"/><circle cx="605.8" cy="227" r="2.5"/><circle cx="585.4" cy="221.8" r="2.5"/><circle cx="616.7" cy="225.8" r="2.5"/><circle cx="620.5" cy="234.1" r="2.5"/><circle cx="589.5" cy="240.2" r="2.5"/><circle cx="623.7" cy="220.9" r="2.5"/><circle cx="596.4" cy="231.4" r="2.5"/><circle cx="586.7" cy="225.8" r="2.5"/><circle cx="586.6" cy="233.7" r="2.5"/><circle cx="605.1" cy="228.1" r="2.5"/><circle cx="609.5" cy="223.6" r="2.5"/><circle cx="592.6" cy="219.5" r="2.5"/><circle cx="587.3" cy="232.5" r="2.5"/><circle cx="600.3" cy="219.3" r="2.5"/><circle cx="580.4" cy="244.6" r="2.5"/><circle cx="618.9" cy="219.5" r="2.5"/><circle cx="600.3" cy="220.9" r="2.5"/><circle cx="583.7" cy="227.5" r="2.5"/><circle cx="619.4" cy="220.5" r="2.5"/><circle cx="616.7" cy="233.7" r="2.5"/><circle cx="580.9" cy="242.5" r="2.5"/><circle cx="595.8" cy="244.9" r="2.5"/><circle cx="626.4" cy="241.8" r="2.5"/><circle cx="583.8" cy="235.6" r="2.5"/><circle cx="622.3" cy="232.2" r="2.5"/><circle cx="613.5" cy="243.2" r="2.5"/><circle cx="625.7" cy="226.6" r="2.5"/><circle cx="592.4" cy="230.3" r="2.5"/><circle cx="592.1" cy="243" r="2.5"/><circle cx="590.5" cy="243.9" r="2.5"/><circle cx="586.3" cy="238.6" r="2.5"/><circle cx="603" cy="244.3" r="2.5"/><circle cx="611.2" cy="225.2" r="2.5"/><circle cx="591.2" cy="230.6" r="2.5"/><circle cx="585.9" cy="233.5" r="2.5"/><circle cx="625.5" cy="224.2" r="2.5"/><circle cx="586.3" cy="241.1" r="2.5"/><circle cx="611.5" cy="241.9" r="2.5"/><circle cx="582.5" cy="233.8" r="2.5"/><circle cx="601.2" cy="221.6" r="2.5"/><circle cx="623.7" cy="230.2" r="2.5"/><circle cx="594.9" cy="236.6" r="2.5"/><circle cx="585.3" cy="245.3" r="2.5"/><circle cx="604.7" cy="227.6" r="2.5"/><circle cx="605.2" cy="235.3" r="2.5"/><circle cx="585.6" cy="230.3" r="2.5"/><circle cx="625.7" cy="219.6" r="2.5"/><circle cx="619.8" cy="242.4" r="2.5"/><circle cx="601.6" cy="226.1" r="2.5"/><circle cx="610.1" cy="230.2" r="2.5"/><circle cx="610.6" cy="234.1" r="2.5"/><circle cx="614.2" cy="240.6" r="2.5"/><circle cx="607" cy="227.9" r="2.5"/><circle cx="625" cy="241.5" r="2.5"/><circle cx="613.8" cy="243.5" r="2.5"/><circle cx="617.1" cy="222.9" r="2.5"/><circle cx="581.3" cy="239.2" r="2.5"/><circle cx="624.4" cy="222.8" r="2.5"/><circle cx="607.2" cy="222.9" r="2.5"/><circle cx="599.8" cy="244.6" r="2.5"/><circle cx="627.2" cy="221.6" r="2.5"/><circle cx="626.9" cy="246" r="2.5"/><circle cx="582.7" cy="227.3" r="2.5"/><circle cx="623" cy="219.8" r="2.5"/><circle cx="591" cy="229.1" r="2.5"/><circle cx="623.1" cy="228.2" r="2.5"/><circle cx="615.8" cy="229.3" r="2.5"/><circle cx="603.9" cy="223.4" r="2.5"/><circle cx="625.8" cy="240.7" r="2.5"/><circle cx="608.5" cy="242.4" r="2.5"/><circle cx="620.5" cy="231.6" r="2.5"/><circle cx="593" cy="226.4" r="2.5"/><circle cx="585.9" cy="230.2" r="2.5"/><circle cx="586.7" cy="232.7" r="2.5"/><circle cx="586.9" cy="220.9" r="2.5"/><circle cx="594.6" cy="234.4" r="2.5"/><circle cx="608.8" cy="238.2" r="2.5"/><circle cx="597.8" cy="221.4" r="2.5"/><circle cx="606.2" cy="238.4" r="2.5"/><circle cx="612.6" cy="242.8" r="2.5"/><circle cx="607.2" cy="223.6" r="2.5"/><circle cx="598.5" cy="206.1" r="2.5"/><circle cx="602.6" cy="208.7" r="2.5"/><circle cx="609.4" cy="210.2" r="2.5"/><circle cx="612.6" cy="213" r="2.5"/><circle cx="619.1" cy="210.5" r="2.5"/><circle cx="620.7" cy="213.7" r="2.5"/><circle cx="596.9" cy="214.3" r="2.5"/><circle cx="593.8" cy="216.5" r="2.5"/><circle cx="585.6" cy="215.5" r="2.5"/><circle cx="581.3" cy="218.1" r="2.5"/><circle cx="632.6" cy="214" r="2.5"/><circle cx="638.3" cy="213" r="2.5"/><circle cx="638.9" cy="216.8" r="2.5"/><circle cx="647.7" cy="207.8" r="2.5"/><circle cx="627.6" cy="216.8" r="2.5"/><circle cx="630.1" cy="219.9" r="2.5"/><circle cx="635.1" cy="220.6" r="2.5"/><circle cx="632.6" cy="224.9" r="2.5"/><circle cx="630.1" cy="229.3" r="2.5"/><circle cx="633.9" cy="230.6" r="2.5"/><circle cx="635.1" cy="240.6" r="2.5"/><circle cx="638.9" cy="240" r="2.5"/><circle cx="632.6" cy="235.6" r="2.5"/><circle cx="630.1" cy="239.4" r="2.5"/><circle cx="629.5" cy="244.4" r="2.5"/><circle cx="671" cy="211.8" r="2.5"/><circle cx="673.4" cy="214.3" r="2.5"/><circle cx="670" cy="219.9" r="2.5"/><circle cx="683.8" cy="207.8" r="2.5"/><circle cx="685.9" cy="207.4" r="2.5"/><circle cx="685" cy="215.9" r="2.5"/><circle cx="681.3" cy="218.4" r="2.5"/><circle cx="700.4" cy="208.7" r="2.5"/><circle cx="707.2" cy="208" r="2.5"/><circle cx="680.9" cy="224.3" r="2.5"/><circle cx="675.6" cy="227.1" r="2.5"/><circle cx="686" cy="225.3" r="2.5"/><circle cx="694" cy="224.9" r="2.5"/><circle cx="699.2" cy="227.8" r="2.5"/><circle cx="712.2" cy="226.8" r="2.5"/><circle cx="704.4" cy="230.3" r="2.5"/><circle cx="690.7" cy="230.2" r="2.5"/><circle cx="685" cy="230.8" r="2.5"/><circle cx="679.4" cy="231.8" r="2.5"/><circle cx="671.2" cy="230.8" r="2.5"/><circle cx="681.9" cy="235.6" r="2.5"/><circle cx="685.9" cy="237.1" r="2.5"/><circle cx="672.7" cy="237.8" r="2.5"/><circle cx="691.9" cy="238.7" r="2.5"/><circle cx="690" cy="241.9" r="2.5"/><circle cx="698.2" cy="241" r="2.5"/><circle cx="705.7" cy="241.9" r="2.5"/><circle cx="717.2" cy="235" r="2.5"/><circle cx="686.9" cy="245.4" r="2.5"/><circle cx="693.2" cy="245.6" r="2.5"/><circle cx="633" cy="214.3" r="2.5"/><circle cx="638.7" cy="213.7" r="2.5"/><circle cx="629.9" cy="221.2" r="2.5"/><circle cx="633" cy="227.4" r="2.5"/><circle cx="646.8" cy="218.7" r="2.5"/><circle cx="651.8" cy="218.1" r="2.5"/><circle cx="644.3" cy="223.1" r="2.5"/><circle cx="653.1" cy="224.3" r="2.5"/><circle cx="658.1" cy="221.8" r="2.5"/><circle cx="663.1" cy="216.8" r="2.5"/><circle cx="666.2" cy="219.3" r="2.5"/><circle cx="667.5" cy="224.9" r="2.5"/><circle cx="670" cy="228.1" r="2.5"/><circle cx="661.8" cy="231.8" r="2.5"/><circle cx="656.8" cy="229.3" r="2.5"/><circle cx="646.8" cy="229.3" r="2.5"/><circle cx="640.5" cy="232.5" r="2.5"/><circle cx="634.3" cy="234.3" r="2.5"/><circle cx="638" cy="238.7" r="2.5"/><circle cx="648.1" cy="235.6" r="2.5"/><circle cx="657.4" cy="236.8" r="2.5"/><circle cx="664.3" cy="236.8" r="2.5"/><circle cx="655.6" cy="241.9" r="2.5"/><circle cx="648.7" cy="243.1" r="2.5"/><circle cx="662.5" cy="246" r="2.5"/><circle cx="642.4" cy="218.1" r="2.5"/><circle cx="635.5" cy="219.3" r="2.5"/><circle cx="630.5" cy="224.9" r="2.5"/><circle cx="636.8" cy="229.3" r="2.5"/><circle cx="643" cy="226.8" r="2.5"/><circle cx="649.9" cy="226.8" r="2.5"/><circle cx="653.1" cy="232.5" r="2.5"/><circle cx="644.3" cy="235.6" r="2.5"/><circle cx="631.8" cy="239.4" r="2.5"/><circle cx="629.3" cy="235.6" r="2.5"/><circle cx="660" cy="226.2" r="2.5"/><circle cx="415.7" cy="248.5" r="2.5"/><circle cx="418.2" cy="251.6" r="2.5"/><circle cx="423.2" cy="253.5" r="2.5"/><circle cx="418.8" cy="257.7" r="2.5"/><circle cx="425.1" cy="247.3" r="2.5"/><circle cx="430.7" cy="249.8" r="2.5"/><circle cx="431.3" cy="254.1" r="2.5"/><circle cx="437.6" cy="254.8" r="2.5"/><circle cx="440.1" cy="251.6" r="2.5"/><circle cx="441.4" cy="247.9" r="2.5"/><circle cx="435.1" cy="249.8" r="2.5"/><circle cx="432.3" cy="261.7" r="2.5"/><circle cx="426.7" cy="266.4" r="2.5"/><circle cx="443" cy="259.5" r="2.5"/><circle cx="443.6" cy="272.3" r="2.5"/><circle cx="448.2" cy="257.9" r="2.5"/><circle cx="450.8" cy="254.1" r="2.5"/><circle cx="449.5" cy="261" r="2.5"/><circle cx="451.1" cy="263.3" r="2.5"/><circle cx="453.9" cy="250.4" r="2.5"/><circle cx="448.9" cy="247.3" r="2.5"/><circle cx="458.9" cy="265.4" r="2.5"/><circle cx="459.9" cy="254.1" r="2.5"/><circle cx="461.4" cy="249.8" r="2.5"/><circle cx="465.2" cy="252.9" r="2.5"/><circle cx="467" cy="263.8" r="2.5"/><circle cx="470.2" cy="251" r="2.5"/><circle cx="474.9" cy="257.3" r="2.5"/><circle cx="475.2" cy="252.3" r="2.5"/><circle cx="480.2" cy="253.5" r="2.5"/><circle cx="478.9" cy="262.9" r="2.5"/><circle cx="480.8" cy="266.7" r="2.5"/><circle cx="484.6" cy="268.9" r="2.5"/><circle cx="485.8" cy="258.5" r="2.5"/><circle cx="485.2" cy="262.3" r="2.5"/><circle cx="489.6" cy="264.2" r="2.5"/><circle cx="470.8" cy="271.7" r="2.5"/><circle cx="476.2" cy="271.4" r="2.5"/><circle cx="476.8" cy="274.2" r="2.5"/><circle cx="482.1" cy="276.1" r="2.5"/><circle cx="455.1" cy="275.4" r="2.5"/><circle cx="458.9" cy="277.3" r="2.5"/><circle cx="462.4" cy="278.8" r="2.5"/><circle cx="465.8" cy="278.3" r="2.5"/><circle cx="457" cy="280.5" r="2.5"/><circle cx="455.5" cy="283.2" r="2.5"/><circle cx="472.9" cy="284" r="2.5"/><circle cx="487.7" cy="249.8" r="2.5"/><circle cx="489" cy="253.5" r="2.5"/><circle cx="482.7" cy="248.5" r="2.5"/><circle cx="467.7" cy="247.3" r="2.5"/><circle cx="458.9" cy="247.3" r="2.5"/><circle cx="475.2" cy="247.3" r="2.5"/><circle cx="503.7" cy="248.6" r="2.5"/><circle cx="548" cy="248.2" r="2.5"/><circle cx="552" cy="247.8" r="2.5"/><circle cx="506.1" cy="246.1" r="2.5"/><circle cx="495" cy="249.3" r="2.5"/><circle cx="570.1" cy="247.8" r="2.5"/><circle cx="502.3" cy="246.6" r="2.5"/><circle cx="495.1" cy="249.4" r="2.5"/><circle cx="505.8" cy="246.1" r="2.5"/><circle cx="527.2" cy="247.1" r="2.5"/><circle cx="572" cy="246.7" r="2.5"/><circle cx="547.7" cy="248.3" r="2.5"/><circle cx="500.9" cy="247.7" r="2.5"/><circle cx="509" cy="247.2" r="2.5"/><circle cx="514.3" cy="246.5" r="2.5"/><circle cx="514.4" cy="246.3" r="2.5"/><circle cx="576.1" cy="247.9" r="2.5"/><circle cx="569.3" cy="246.5" r="2.5"/><circle cx="564.7" cy="246.2" r="2.5"/><circle cx="534" cy="246.9" r="2.5"/><circle cx="496.1" cy="249.1" r="2.5"/><circle cx="504.7" cy="247.6" r="2.5"/><circle cx="497.6" cy="247.8" r="2.5"/><circle cx="525.4" cy="246.9" r="2.5"/><circle cx="545.7" cy="247.8" r="2.5"/><circle cx="512.9" cy="247.9" r="2.5"/><circle cx="513.7" cy="247.2" r="2.5"/><circle cx="568.5" cy="247.5" r="2.5"/><circle cx="559.4" cy="247.9" r="2.5"/><circle cx="557.1" cy="248.8" r="2.5"/><circle cx="521.2" cy="247.6" r="2.5"/><circle cx="519.7" cy="247.5" r="2.5"/><circle cx="549.2" cy="248.7" r="2.5"/><circle cx="516.1" cy="246" r="2.5"/><circle cx="527.1" cy="246.8" r="2.5"/><circle cx="560.3" cy="246.6" r="2.5"/><circle cx="525" cy="246" r="2.5"/><circle cx="558.7" cy="248.5" r="2.5"/><circle cx="562.9" cy="247.1" r="2.5"/><circle cx="554.3" cy="247.2" r="2.5"/><circle cx="525.6" cy="246.2" r="2.5"/><circle cx="556.5" cy="248.9" r="2.5"/><circle cx="520.8" cy="246.6" r="2.5"/><circle cx="491.9" cy="250.2" r="2.5"/><circle cx="575.1" cy="246.9" r="2.5"/><circle cx="542.2" cy="246.6" r="2.5"/><circle cx="578.7" cy="247.1" r="2.5"/><circle cx="493.9" cy="249.8" r="2.5"/><circle cx="533.8" cy="246.6" r="2.5"/><circle cx="560.5" cy="246.1" r="2.5"/><circle cx="543.8" cy="246.3" r="2.5"/><circle cx="501.6" cy="248.8" r="2.5"/><circle cx="540.3" cy="247.3" r="2.5"/><circle cx="520.1" cy="247.7" r="2.5"/><circle cx="570.9" cy="246.9" r="2.5"/><circle cx="532.5" cy="246.1" r="2.5"/><circle cx="540.3" cy="246.7" r="2.5"/><circle cx="555.1" cy="246.1" r="2.5"/><circle cx="549.8" cy="246.7" r="2.5"/><circle cx="545.2" cy="248.3" r="2.5"/><circle cx="517.9" cy="247" r="2.5"/><circle cx="491.3" cy="253.5" r="2.5"/><circle cx="495" cy="251.6" r="2.5"/><circle cx="497.8" cy="261.9" r="2.5"/><circle cx="502.5" cy="259.5" r="2.5"/><circle cx="500" cy="262.9" r="2.5"/><circle cx="506.3" cy="274.6" r="2.5"/><circle cx="507.9" cy="285.5" r="2.5"/><circle cx="513.8" cy="287.1" r="2.5"/><circle cx="498.1" cy="292.1" r="2.5"/><circle cx="507.5" cy="251.6" r="2.5"/><circle cx="513.8" cy="254.1" r="2.5"/><circle cx="517.3" cy="264.8" r="2.5"/><circle cx="518.8" cy="269.2" r="2.5"/><circle cx="521.3" cy="271.7" r="2.5"/><circle cx="520.1" cy="274.8" r="2.5"/><circle cx="514.2" cy="272.9" r="2.5"/><circle cx="514.4" cy="276.1" r="2.5"/><circle cx="527" cy="257.5" r="2.5"/><circle cx="526.3" cy="267.1" r="2.5"/><circle cx="525.5" cy="278.8" r="2.5"/><circle cx="530.7" cy="288" r="2.5"/><circle cx="534.2" cy="287.1" r="2.5"/><circle cx="521.3" cy="252.3" r="2.5"/><circle cx="535.7" cy="259.2" r="2.5"/><circle cx="539.5" cy="260.4" r="2.5"/><circle cx="539.9" cy="264.5" r="2.5"/><circle cx="535.1" cy="252.3" r="2.5"/><circle cx="540.1" cy="253.5" r="2.5"/><circle cx="543.9" cy="255.4" r="2.5"/><circle cx="548.6" cy="259.2" r="2.5"/><circle cx="547.4" cy="269.6" r="2.5"/><circle cx="547.4" cy="281.3" r="2.5"/><circle cx="552.7" cy="268.6" r="2.5"/><circle cx="555.2" cy="264.8" r="2.5"/><circle cx="558.3" cy="265.2" r="2.5"/><circle cx="554.5" cy="256.7" r="2.5"/><circle cx="558.3" cy="258.5" r="2.5"/><circle cx="561.4" cy="258.5" r="2.5"/><circle cx="562.7" cy="254.1" r="2.5"/><circle cx="568.9" cy="254.8" r="2.5"/><circle cx="568.3" cy="261" r="2.5"/><circle cx="571.5" cy="267.9" r="2.5"/><circle cx="571.1" cy="276.3" r="2.5"/><circle cx="579.6" cy="277.6" r="2.5"/><circle cx="557" cy="284.6" r="2.5"/><circle cx="558.7" cy="285.8" r="2.5"/><circle cx="564.2" cy="293" r="2.5"/><circle cx="501.3" cy="249.8" r="2.5"/><circle cx="515.1" cy="249.8" r="2.5"/><circle cx="527.6" cy="248.5" r="2.5"/><circle cx="542.6" cy="249.8" r="2.5"/><circle cx="548.9" cy="249.8" r="2.5"/><circle cx="560.2" cy="251" r="2.5"/><circle cx="571.5" cy="249.8" r="2.5"/><circle cx="577.7" cy="251" r="2.5"/><circle cx="565.2" cy="249.8" r="2.5"/><circle cx="582.5" cy="252.9" r="2.5"/><circle cx="587.5" cy="248.5" r="2.5"/><circle cx="596.9" cy="251" r="2.5"/><circle cx="594.4" cy="255.4" r="2.5"/><circle cx="600.1" cy="257.7" r="2.5"/><circle cx="590" cy="259.2" r="2.5"/><circle cx="593.2" cy="260.4" r="2.5"/><circle cx="586.5" cy="262.3" r="2.5"/><circle cx="586.9" cy="265.4" r="2.5"/><circle cx="584.4" cy="276.5" r="2.5"/><circle cx="595" cy="275.2" r="2.5"/><circle cx="597.3" cy="266.7" r="2.5"/><circle cx="602.6" cy="265.4" r="2.5"/><circle cx="604.7" cy="266.3" r="2.5"/><circle cx="607.6" cy="251.9" r="2.5"/><circle cx="607.6" cy="258.3" r="2.5"/><circle cx="613.2" cy="251" r="2.5"/><circle cx="617.6" cy="255.4" r="2.5"/><circle cx="619.5" cy="249.1" r="2.5"/><circle cx="625.1" cy="260.2" r="2.5"/><circle cx="622" cy="263.5" r="2.5"/><circle cx="618.8" cy="265.8" r="2.5"/><circle cx="625.1" cy="266.7" r="2.5"/><circle cx="624.5" cy="269.6" r="2.5"/><circle cx="613" cy="274.2" r="2.5"/><circle cx="622.6" cy="278.8" r="2.5"/><circle cx="624.5" cy="278.8" r="2.5"/><circle cx="605.4" cy="284" r="2.5"/><circle cx="610.7" cy="293.6" r="2.5"/><circle cx="628.2" cy="255" r="2.5"/><circle cx="631.1" cy="254.1" r="2.5"/><circle cx="633.6" cy="261.3" r="2.5"/><circle cx="635.8" cy="250.4" r="2.5"/><circle cx="640.2" cy="255.4" r="2.5"/><circle cx="640.8" cy="249.8" r="2.5"/><circle cx="645.8" cy="256.3" r="2.5"/><circle cx="650.4" cy="257" r="2.5"/><circle cx="647.7" cy="261.3" r="2.5"/><circle cx="651.4" cy="260.8" r="2.5"/><circle cx="642.3" cy="268.6" r="2.5"/><circle cx="651.2" cy="270.8" r="2.5"/><circle cx="649.5" cy="272.9" r="2.5"/><circle cx="656.2" cy="254.1" r="2.5"/><circle cx="658.9" cy="255.4" r="2.5"/><circle cx="663" cy="247.3" r="2.5"/><circle cx="667.7" cy="251.6" r="2.5"/><circle cx="669.2" cy="291.1" r="2.5"/><circle cx="603.8" cy="247.9" r="2.5"/><circle cx="627.6" cy="247.9" r="2.5"/><circle cx="632.6" cy="247.3" r="2.5"/><circle cx="583.8" cy="249.8" r="2.5"/><circle cx="673.4" cy="247.9" r="2.5"/><circle cx="671.6" cy="255" r="2.5"/><circle cx="681.3" cy="263.5" r="2.5"/><circle cx="684.6" cy="265" r="2.5"/><circle cx="687.9" cy="249.1" r="2.5"/><circle cx="693.8" cy="249.8" r="2.5"/><circle cx="696.9" cy="251.6" r="2.5"/><circle cx="700.4" cy="260.2" r="2.5"/><circle cx="698.4" cy="267.9" r="2.5"/><circle cx="691.5" cy="272.9" r="2.5"/><circle cx="707.3" cy="254.8" r="2.5"/><circle cx="710.7" cy="257" r="2.5"/><circle cx="714.7" cy="263.5" r="2.5"/><circle cx="685.3" cy="293" r="2.5"/><circle cx="689.4" cy="294" r="2.5"/><circle cx="415" cy="302.1" r="2.5"/><circle cx="460.4" cy="315.9" r="2.5"/><circle cx="461.7" cy="319.7" r="2.5"/><circle cx="465.2" cy="326.8" r="2.5"/><circle cx="462.3" cy="330.6" r="2.5"/><circle cx="487.3" cy="298.4" r="2.5"/><circle cx="487.3" cy="300.9" r="2.5"/><circle cx="490.6" cy="299.3" r="2.5"/><circle cx="495.6" cy="302.5" r="2.5"/><circle cx="508.5" cy="316.8" r="2.5"/><circle cx="526.3" cy="306.5" r="2.5"/><circle cx="527.6" cy="310.7" r="2.5"/><circle cx="530.7" cy="320.9" r="2.5"/><circle cx="526.3" cy="328.7" r="2.5"/><circle cx="559.2" cy="304.7" r="2.5"/><circle cx="556.8" cy="311.3" r="2.5"/><circle cx="556" cy="325" r="2.5"/><circle cx="575" cy="303.6" r="2.5"/><circle cx="577.3" cy="319.1" r="2.5"/><circle cx="579.6" cy="325.3" r="2.5"/><circle cx="572.7" cy="328.7" r="2.5"/><circle cx="612" cy="304.7" r="2.5"/><circle cx="617.3" cy="305.3" r="2.5"/><circle cx="615.5" cy="308.8" r="2.5"/><circle cx="638" cy="319.1" r="2.5"/><circle cx="614.2" cy="326.8" r="2.5"/><circle cx="640.8" cy="333.8" r="2.5"/><circle cx="654.9" cy="338.5" r="2.5"/><circle cx="600.1" cy="341.4" r="2.5"/><circle cx="675.6" cy="303.6" r="2.5"/><circle cx="677.1" cy="307.8" r="2.5"/><circle cx="694" cy="306.5" r="2.5"/><circle cx="709.7" cy="305.5" r="2.5"/><circle cx="712.8" cy="318.8" r="2.5"/><circle cx="692.9" cy="322.2" r="2.5"/><circle cx="695.4" cy="326.8" r="2.5"/><circle cx="713.6" cy="325" r="2.5"/><circle cx="712.2" cy="327.5" r="2.5"/><circle cx="679.1" cy="332" r="2.5"/><circle cx="716.3" cy="341.6" r="2.5"/><circle cx="432" cy="344.4" r="2.5"/><circle cx="487.3" cy="352.3" r="2.5"/><circle cx="521.7" cy="343.5" r="2.5"/><circle cx="518.8" cy="347.1" r="2.5"/><circle cx="529.5" cy="350.4" r="2.5"/><circle cx="639.5" cy="355.4" r="2.5"/><circle cx="431.3" cy="248.9" r="2.5"/><circle cx="433.8" cy="252.7" r="2.5"/><circle cx="437.6" cy="248.9" r="2.5"/><circle cx="440.1" cy="252.1" r="2.5"/><circle cx="436.3" cy="254.6" r="2.5"/><circle cx="442.6" cy="243.3" r="2.5"/><circle cx="445.1" cy="240.8" r="2.5"/><circle cx="446.4" cy="246.4" r="2.5"/><circle cx="450.1" cy="243.9" r="2.5"/><circle cx="453.9" cy="240.8" r="2.5"/><circle cx="452.6" cy="247.1" r="2.5"/><circle cx="456.4" cy="244.6" r="2.5"/><circle cx="458.9" cy="242.1" r="2.5"/><circle cx="462.7" cy="240.8" r="2.5"/><circle cx="461.4" cy="248.3" r="2.5"/><circle cx="465.2" cy="245.2" r="2.5"/><circle cx="467.7" cy="242.1" r="2.5"/><circle cx="465.2" cy="250.8" r="2.5"/><circle cx="468.9" cy="248.3" r="2.5"/><circle cx="471.4" cy="244.6" r="2.5"/><circle cx="470.2" cy="252.7" r="2.5"/><circle cx="475.2" cy="240.8" r="2.5"/><circle cx="477.7" cy="247.1" r="2.5"/><circle cx="475.2" cy="252.1" r="2.5"/><circle cx="480.2" cy="250.8" r="2.5"/><circle cx="481.5" cy="243.3" r="2.5"/><circle cx="485.2" cy="247.1" r="2.5"/><circle cx="485.2" cy="252.1" r="2.5"/><circle cx="487.7" cy="240.8" r="2.5"/><circle cx="489.6" cy="255.8" r="2.5"/><circle cx="482.7" cy="255.8" r="2.5"/><circle cx="440.1" cy="238.3" r="2.5"/><circle cx="416.3" cy="247.7" r="2.5"/><circle cx="428.8" cy="250.8" r="2.5"/><circle cx="460.2" cy="253.3" r="2.5"/><circle cx="487.7" cy="234.5" r="2.5"/><circle cx="484" cy="232.7" r="2.5"/><circle cx="647.7" cy="220.7" r="2.5"/><circle cx="652.8" cy="216.7" r="2.5"/><circle cx="653.6" cy="229.9" r="2.5"/><circle cx="653.9" cy="242.2" r="2.5"/><circle cx="638.4" cy="230.1" r="2.5"/><circle cx="639.2" cy="245.9" r="2.5"/><circle cx="666.4" cy="234.1" r="2.5"/><circle cx="660.6" cy="222" r="2.5"/><circle cx="642.7" cy="219.6" r="2.5"/><circle cx="651.9" cy="222.7" r="2.5"/><circle cx="653.3" cy="222.6" r="2.5"/><circle cx="667.8" cy="236.7" r="2.5"/><circle cx="649.6" cy="239.9" r="2.5"/><circle cx="645.6" cy="220.8" r="2.5"/><circle cx="629.5" cy="243.6" r="2.5"/><circle cx="636.7" cy="224.4" r="2.5"/><circle cx="652.8" cy="236.7" r="2.5"/><circle cx="657" cy="241.6" r="2.5"/><circle cx="646.4" cy="218.1" r="2.5"/><circle cx="665.6" cy="218" r="2.5"/><circle cx="652" cy="223.5" r="2.5"/><circle cx="657.3" cy="230.5" r="2.5"/><circle cx="654.4" cy="220.4" r="2.5"/><circle cx="648.3" cy="235" r="2.5"/><circle cx="657.2" cy="229.6" r="2.5"/><circle cx="640.3" cy="225.4" r="2.5"/><circle cx="654.6" cy="216.9" r="2.5"/><circle cx="630.8" cy="223.4" r="2.5"/><circle cx="642.2" cy="245.3" r="2.5"/><circle cx="634.1" cy="221.9" r="2.5"/><circle cx="658.2" cy="235.5" r="2.5"/><circle cx="639.6" cy="222.8" r="2.5"/><circle cx="632.4" cy="217" r="2.5"/><circle cx="654.4" cy="215.1" r="2.5"/><circle cx="643.7" cy="218.1" r="2.5"/><circle cx="635.2" cy="212.8" r="2.5"/><circle cx="632" cy="225.1" r="2.5"/><circle cx="635.8" cy="231.9" r="2.5"/><circle cx="647.4" cy="239.1" r="2.5"/><circle cx="649.3" cy="214" r="2.5"/><circle cx="650.8" cy="221.6" r="2.5"/><circle cx="647.3" cy="240.5" r="2.5"/><circle cx="665.5" cy="232.6" r="2.5"/><circle cx="644.5" cy="234.8" r="2.5"/><circle cx="663.1" cy="230.4" r="2.5"/><circle cx="639.9" cy="226.4" r="2.5"/><circle cx="661.1" cy="218.2" r="2.5"/><circle cx="647.6" cy="218.9" r="2.5"/><circle cx="632.7" cy="237.4" r="2.5"/><circle cx="644.7" cy="232.9" r="2.5"/><circle cx="639.7" cy="215.4" r="2.5"/><circle cx="659.8" cy="239.8" r="2.5"/><circle cx="633.3" cy="217.7" r="2.5"/><circle cx="668.7" cy="220.2" r="2.5"/><circle cx="651.1" cy="218.5" r="2.5"/><circle cx="642.4" cy="227.7" r="2.5"/><circle cx="633.5" cy="232.3" r="2.5"/><circle cx="638" cy="227.2" r="2.5"/><circle cx="664.7" cy="226.2" r="2.5"/><circle cx="641.2" cy="219.1" r="2.5"/><circle cx="637.7" cy="237.2" r="2.5"/><circle cx="650.2" cy="227.4" r="2.5"/><circle cx="644.9" cy="229.1" r="2.5"/><circle cx="649.7" cy="215.1" r="2.5"/><circle cx="643.8" cy="229.7" r="2.5"/><circle cx="656.7" cy="222.7" r="2.5"/><circle cx="638.5" cy="241.7" r="2.5"/><circle cx="642.3" cy="231.1" r="2.5"/><circle cx="656.4" cy="231.3" r="2.5"/><circle cx="646.6" cy="219.8" r="2.5"/><circle cx="630.7" cy="214.1" r="2.5"/><circle cx="666.7" cy="222.7" r="2.5"/><circle cx="644.4" cy="237.2" r="2.5"/><circle cx="638.4" cy="235.1" r="2.5"/><circle cx="629.5" cy="226.8" r="2.5"/><circle cx="651.1" cy="233" r="2.5"/><circle cx="652.8" cy="225" r="2.5"/><circle cx="653.3" cy="218.5" r="2.5"/><circle cx="659.6" cy="237.2" r="2.5"/><circle cx="628.5" cy="217.8" r="2.5"/><circle cx="663.2" cy="232.7" r="2.5"/><circle cx="654.4" cy="223.8" r="2.5"/><circle cx="638" cy="220.2" r="2.5"/><circle cx="641.6" cy="226.2" r="2.5"/><circle cx="572.3" cy="254.7" r="2.5"/><circle cx="548.2" cy="248.1" r="2.5"/><circle cx="589.4" cy="251" r="2.5"/><circle cx="591.8" cy="252.4" r="2.5"/><circle cx="553.9" cy="253.2" r="2.5"/><circle cx="545.9" cy="254.1" r="2.5"/><circle cx="540.7" cy="254.1" r="2.5"/><circle cx="548.5" cy="252.5" r="2.5"/><circle cx="551.9" cy="252.1" r="2.5"/><circle cx="564.4" cy="254.1" r="2.5"/><circle cx="614.2" cy="254.4" r="2.5"/><circle cx="544.5" cy="253.4" r="2.5"/><circle cx="538.7" cy="247.4" r="2.5"/><circle cx="620.3" cy="250.2" r="2.5"/><circle cx="628.3" cy="251.1" r="2.5"/><circle cx="554.9" cy="252.8" r="2.5"/><circle cx="581.8" cy="252.3" r="2.5"/><circle cx="563" cy="255.5" r="2.5"/><circle cx="563.1" cy="252.5" r="2.5"/><circle cx="545.1" cy="252.1" r="2.5"/><circle cx="577.4" cy="248.4" r="2.5"/><circle cx="546.3" cy="250.4" r="2.5"/><circle cx="559.7" cy="247.2" r="2.5"/><circle cx="549.2" cy="253.2" r="2.5"/><circle cx="574.6" cy="254.1" r="2.5"/><circle cx="606.8" cy="246.8" r="2.5"/><circle cx="541.6" cy="248.9" r="2.5"/><circle cx="591.6" cy="253.6" r="2.5"/><circle cx="559.2" cy="255.1" r="2.5"/><circle cx="597.4" cy="252.1" r="2.5"/>
</g><g fill="#e8281e">
<circle cx="465.8" cy="238.4" r="2.5"/><circle cx="497.3" cy="235.3" r="2.5"/><circle cx="512.3" cy="242.2" r="2.5"/><circle cx="529.2" cy="231.2" r="2.5"/><circle cx="552.7" cy="233.7" r="2.5"/><circle cx="558.3" cy="232.7" r="2.5"/><circle cx="566.4" cy="232.1" r="2.5"/><circle cx="571.5" cy="224.3" r="2.5"/><circle cx="562.4" cy="239.7" r="2.5"/><circle cx="576.2" cy="243.7" r="2.5"/><circle cx="556.4" cy="245.6" r="2.5"/><circle cx="604.7" cy="216.8" r="2.5"/><circle cx="656.1" cy="215.8" r="2.5"/><circle cx="638.9" cy="224.9" r="2.5"/><circle cx="591.3" cy="226.8" r="2.5"/><circle cx="597.2" cy="229.1" r="2.5"/><circle cx="609.7" cy="230" r="2.5"/><circle cx="592.5" cy="233.5" r="2.5"/><circle cx="598.8" cy="236.2" r="2.5"/><circle cx="601.9" cy="235.3" r="2.5"/><circle cx="628.6" cy="232.7" r="2.5"/><circle cx="652.7" cy="239.1" r="2.5"/><circle cx="597.2" cy="244.1" r="2.5"/><circle cx="615.5" cy="245" r="2.5"/><circle cx="672.1" cy="217.2" r="2.5"/><circle cx="685.4" cy="221.2" r="2.5"/><circle cx="707.6" cy="229.3" r="2.5"/><circle cx="681.3" cy="238.5" r="2.5"/><circle cx="674.7" cy="242.7" r="2.5"/><circle cx="557" cy="247" r="2.5"/><circle cx="561.7" cy="248.3" r="2.5"/><circle cx="579.6" cy="261.7" r="2.5"/><circle cx="576.5" cy="246" r="2.5"/><circle cx="592.5" cy="249.8" r="2.5"/><circle cx="637.3" cy="257" r="2.5"/><circle cx="666.7" cy="256.7" r="2.5"/><circle cx="530.7" cy="343.2" r="2.5"/>
</g></g>
<rect x="401.5" y="199.2" width="316" height="156.1" fill="none" stroke="#555" stroke-width="0.9"/>
<path d="M414.6 355.3v7M477.9 355.3v7M541.1 355.3v7M604.4 355.3v7M667.6 355.3v7M401.9 355.3v3.7M427.3 355.3v3.7M439.9 355.3v3.7M452.6 355.3v3.7M465.2 355.3v3.7M490.5 355.3v3.7M503.2 355.3v3.7M515.8 355.3v3.7M528.5 355.3v3.7M553.8 355.3v3.7M566.4 355.3v3.7M579.1 355.3v3.7M591.7 355.3v3.7M617 355.3v3.7M629.7 355.3v3.7M642.3 355.3v3.7M655 355.3v3.7M680.3 355.3v3.7M692.9 355.3v3.7M705.6 355.3v3.7M718.2 355.3v3.7M401.5 199.3h-7.3M401.5 230.5h-7.3M401.5 261.7h-7.3M401.5 292.9h-7.3M401.5 324.1h-7.3M401.5 355.3h-7.3M401.5 207.1h-3.7M401.5 214.9h-3.7M401.5 222.7h-3.7M401.5 238.3h-3.7M401.5 246.1h-3.7M401.5 253.9h-3.7M401.5 269.5h-3.7M401.5 277.3h-3.7M401.5 285.1h-3.7M401.5 300.7h-3.7M401.5 308.5h-3.7M401.5 316.3h-3.7M401.5 331.9h-3.7M401.5 339.7h-3.7M401.5 347.5h-3.7" stroke="#666" stroke-width="0.55" fill="none"/>
<text class="t" x="414.6" y="370.6" text-anchor="middle">2.3</text>
<text class="t" x="477.9" y="370.6" text-anchor="middle">2.4</text>
<text class="t" x="541.1" y="370.6" text-anchor="middle">2.5</text>
<text class="t" x="604.4" y="370.6" text-anchor="middle">2.6</text>
<text class="t" x="667.6" y="370.6" text-anchor="middle">2.7</text>
<text class="t" x="391.3" y="202" text-anchor="end">−10</text>
<text class="t" x="391.3" y="233.2" text-anchor="end">−8</text>
<text class="t" x="391.3" y="264.4" text-anchor="end">−6</text>
<text class="t" x="391.3" y="295.6" text-anchor="end">−4</text>
<text class="t" x="391.3" y="326.8" text-anchor="end">−2</text>
<text class="t" x="391.3" y="358" text-anchor="end">0</text>
<text class="ti" x="198.2" y="7.4" text-anchor="middle">Sample (1): Sivagnanam et al. (1988)</text>
<text class="ti" x="559.5" y="7.4" text-anchor="middle">Sample (1): Sivagnanam et al. (1988)</text>
<text class="ti" x="198.2" y="194.6" text-anchor="middle">Sample (2): GCVS 5.1</text>
<text class="ti" x="559.5" y="194.6" text-anchor="middle">Sample (2): GCVS 5.1</text>
<text class="lb" x="198.6" y="383.6" text-anchor="middle" font-size="9.6">J − K<tspan font-size="6.7" dy="1.6">s</tspan></text>
<text class="lb" x="559.6" y="384.1" text-anchor="middle" font-size="9.6" letter-spacing="0.55">log<tspan font-size="6.9" dy="1.7" font-style="normal">10</tspan><tspan dy="-1.7">P</tspan></text>
<text class="lb" transform="translate(8.8 90) rotate(-90)" text-anchor="middle" font-size="9.7" letter-spacing="0.45">M<tspan font-size="7.1" dy="1.7">K</tspan><tspan font-size="5.2" dy="1.3">s</tspan></text>
<text class="lb" transform="translate(8.8 277.9) rotate(-90)" text-anchor="middle" font-size="9.7" letter-spacing="0.45">M<tspan font-size="7.1" dy="1.7">K</tspan><tspan font-size="5.2" dy="1.3">s</tspan></text>
<rect x="43.6" y="14.6" width="94.9" height="10.2" rx="1.2" fill="#fff" fill-opacity="0.85" stroke="#ccc" stroke-width="0.6"/>
<circle cx="51.2" cy="19.6" r="2.5" fill="#000"/><circle cx="108.5" cy="19.6" r="2.5" fill="#e8281e"/>
<text class="lg" x="61.8" y="21.6">Non OH/IR</text><text class="lg" x="119.1" y="21.6">OH/IR</text>
</svg></body></html>
